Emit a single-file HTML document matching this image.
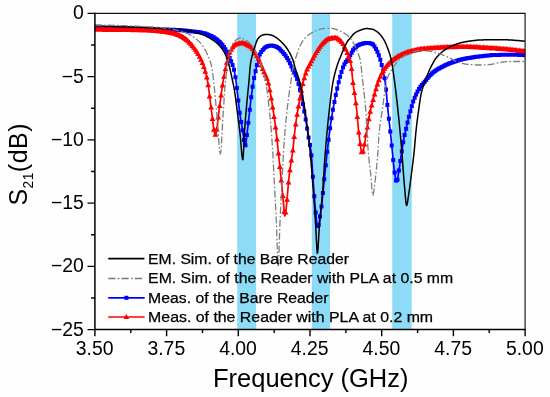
<!DOCTYPE html>
<html lang="en"><head><meta charset="utf-8"><title>S21 vs Frequency</title>
<style>html,body{margin:0;padding:0;background:#fff}body{width:550px;height:397px;overflow:hidden}svg{display:block}text{font-family:"Liberation Sans",sans-serif;fill:#000}</style></head><body>
<svg width="550" height="397" viewBox="0 0 550 397">
<rect width="550" height="397" fill="#fefefe"/>
<rect x="237.2" y="13.4" width="18.9" height="316.2" fill="#8cdcf8"/>
<rect x="311.8" y="13.4" width="18.2" height="316.2" fill="#8cdcf8"/>
<rect x="392.2" y="13.4" width="19.5" height="316.2" fill="#8cdcf8"/>
<clipPath id="c"><rect x="94.9" y="13.4" width="430.2" height="316.2"/></clipPath>
<g clip-path="url(#c)">
<path d="M94.9,28.6 L95.3,28.6 L95.7,28.6 L96.1,28.6 L96.5,28.6 L96.9,28.6 L97.3,28.6 L97.7,28.6 L98.1,28.6 L98.5,28.6 L98.9,28.6 L99.3,28.6 L99.7,28.6 L100.1,28.6 L100.5,28.6 L100.9,28.6 L101.3,28.6 L101.7,28.6 L102.1,28.6 L102.5,28.6 L102.9,28.6 L103.3,28.6 L103.7,28.6 L104.1,28.6 L104.5,28.6 L104.9,28.6 L105.3,28.6 L105.7,28.6 L106.1,28.6 L106.5,28.6 L106.9,28.6 L107.3,28.6 L107.7,28.6 L108.1,28.6 L108.5,28.6 L108.9,28.6 L109.3,28.6 L109.7,28.6 L110.1,28.6 L110.5,28.6 L110.9,28.6 L111.3,28.6 L111.7,28.6 L112.1,28.6 L112.5,28.6 L112.9,28.6 L113.3,28.6 L113.7,28.6 L114.1,28.6 L114.5,28.6 L114.9,28.6 L115.3,28.6 L115.7,28.6 L116.1,28.6 L116.5,28.6 L116.9,28.6 L117.3,28.6 L117.7,28.6 L118.1,28.6 L118.5,28.6 L118.9,28.6 L119.3,28.6 L119.7,28.6 L120.1,28.6 L120.5,28.6 L120.9,28.6 L121.3,28.6 L121.7,28.6 L122.1,28.6 L122.5,28.6 L122.9,28.6 L123.3,28.6 L123.7,28.6 L124.1,28.6 L124.5,28.6 L124.9,28.6 L125.3,28.6 L125.7,28.6 L126.1,28.6 L126.5,28.6 L126.9,28.6 L127.3,28.6 L127.7,28.6 L128.1,28.6 L128.5,28.6 L128.9,28.6 L129.3,28.6 L129.7,28.6 L130.1,28.6 L130.5,28.6 L130.9,28.6 L131.3,28.6 L131.7,28.6 L132.1,28.6 L132.5,28.6 L132.9,28.6 L133.3,28.6 L133.7,28.6 L134.1,28.6 L134.5,28.6 L134.9,28.6 L135.3,28.6 L135.7,28.6 L136.1,28.7 L136.5,28.7 L136.9,28.7 L137.3,28.7 L137.7,28.7 L138.1,28.7 L138.5,28.7 L138.9,28.7 L139.3,28.7 L139.7,28.7 L140.1,28.7 L140.5,28.7 L140.9,28.8 L141.3,28.8 L141.7,28.8 L142.1,28.8 L142.5,28.8 L142.9,28.8 L143.3,28.8 L143.7,28.8 L144.1,28.8 L144.5,28.9 L144.9,28.9 L145.3,28.9 L145.7,28.9 L146.1,28.9 L146.5,28.9 L146.9,28.9 L147.3,28.9 L147.7,28.9 L148.1,28.9 L148.5,29.0 L148.9,29.0 L149.3,29.0 L149.7,29.0 L150.1,29.0 L150.5,29.0 L150.9,29.0 L151.3,29.0 L151.7,29.0 L152.1,29.1 L152.5,29.1 L152.9,29.1 L153.3,29.1 L153.7,29.1 L154.1,29.1 L154.5,29.1 L154.9,29.1 L155.3,29.2 L155.7,29.2 L156.1,29.2 L156.5,29.2 L156.9,29.2 L157.3,29.2 L157.7,29.2 L158.1,29.3 L158.5,29.3 L158.9,29.3 L159.3,29.3 L159.7,29.3 L160.1,29.3 L160.5,29.3 L160.9,29.4 L161.3,29.4 L161.7,29.4 L162.1,29.4 L162.5,29.4 L162.9,29.4 L163.3,29.4 L163.7,29.5 L164.1,29.5 L164.5,29.5 L164.9,29.5 L165.3,29.5 L165.7,29.5 L166.1,29.5 L166.5,29.6 L166.9,29.6 L167.3,29.6 L167.7,29.6 L168.1,29.6 L168.5,29.6 L168.9,29.6 L169.3,29.6 L169.7,29.7 L170.1,29.7 L170.5,29.7 L170.9,29.7 L171.3,29.7 L171.7,29.7 L172.1,29.7 L172.5,29.8 L172.9,29.8 L173.3,29.8 L173.7,29.8 L174.1,29.8 L174.5,29.8 L174.9,29.9 L175.3,29.9 L175.7,29.9 L176.1,29.9 L176.5,29.9 L176.9,29.9 L177.3,30.0 L177.7,30.0 L178.1,30.0 L178.5,30.0 L178.9,30.0 L179.3,30.1 L179.7,30.1 L180.1,30.1 L180.5,30.1 L180.9,30.2 L181.3,30.2 L181.7,30.2 L182.1,30.2 L182.5,30.3 L182.9,30.3 L183.3,30.4 L183.7,30.4 L184.1,30.4 L184.5,30.5 L184.9,30.5 L185.3,30.5 L185.7,30.6 L186.1,30.6 L186.5,30.7 L186.9,30.7 L187.3,30.8 L187.7,30.8 L188.1,30.9 L188.5,30.9 L188.9,31.0 L189.3,31.0 L189.7,31.0 L190.1,31.1 L190.5,31.1 L190.9,31.2 L191.3,31.2 L191.7,31.3 L192.1,31.3 L192.5,31.4 L192.9,31.4 L193.3,31.5 L193.7,31.5 L194.1,31.6 L194.5,31.6 L194.9,31.7 L195.3,31.7 L195.7,31.8 L196.1,31.8 L196.5,31.9 L196.9,31.9 L197.3,32.0 L197.7,32.0 L198.1,32.1 L198.5,32.1 L198.9,32.2 L199.3,32.3 L199.7,32.3 L200.1,32.4 L200.5,32.5 L200.9,32.5 L201.3,32.6 L201.7,32.7 L202.1,32.8 L202.5,32.9 L202.9,33.0 L203.3,33.1 L203.7,33.2 L204.1,33.3 L204.5,33.4 L204.9,33.5 L205.3,33.6 L205.7,33.8 L206.1,33.9 L206.5,34.1 L206.9,34.2 L207.3,34.4 L207.7,34.5 L208.1,34.7 L208.5,34.9 L208.9,35.0 L209.3,35.2 L209.7,35.4 L210.1,35.6 L210.5,35.8 L210.9,36.0 L211.3,36.2 L211.7,36.4 L212.1,36.6 L212.5,36.8 L212.9,37.0 L213.3,37.2 L213.7,37.4 L214.1,37.7 L214.5,37.9 L214.9,38.1 L215.3,38.4 L215.7,38.7 L216.1,39.0 L216.5,39.3 L216.9,39.6 L217.3,39.9 L217.7,40.2 L218.1,40.6 L218.5,40.9 L218.9,41.3 L219.3,41.6 L219.7,42.0 L220.1,42.4 L220.5,42.8 L220.9,43.2 L221.3,43.7 L221.7,44.1 L222.1,44.6 L222.5,45.1 L222.9,45.6 L223.3,46.1 L223.7,46.7 L224.1,47.3 L224.5,47.9 L224.9,48.5 L225.3,49.1 L225.7,49.7 L226.1,50.4 L226.5,51.2 L226.9,52.0 L227.3,52.8 L227.7,53.6 L228.1,54.5 L228.5,55.3 L228.9,56.2 L229.3,57.1 L229.7,58.0 L230.1,58.9 L230.5,59.8 L230.9,60.8 L231.3,61.7 L231.7,62.7 L232.1,63.8 L232.5,64.9 L232.9,66.0 L233.3,67.2 L233.7,68.5 L234.1,70.1 L234.5,72.0 L234.9,74.2 L235.3,76.5 L235.7,79.0 L236.1,81.7 L236.5,84.8 L236.9,88.2 L237.3,91.8 L237.7,95.4 L238.1,98.8 L238.5,102.3 L238.9,105.8 L239.3,109.2 L239.7,112.5 L240.1,115.5 L240.5,118.1 L240.9,120.5 L241.3,122.7 L241.7,124.9 L242.1,127.1 L242.5,129.6 L242.9,132.3 L243.3,135.0 L243.7,137.8 L244.1,140.3 L244.5,142.6 L244.9,144.8 L245.3,145.5 L245.7,144.3 L246.1,142.3 L246.5,139.0 L246.9,135.1 L247.3,131.5 L247.7,128.1 L248.1,124.8 L248.5,121.4 L248.9,118.0 L249.3,114.4 L249.7,110.5 L250.1,106.5 L250.5,102.9 L250.9,99.6 L251.3,96.5 L251.7,93.6 L252.1,90.7 L252.5,87.8 L252.9,84.9 L253.3,82.2 L253.7,79.9 L254.1,77.8 L254.5,75.8 L254.9,74.0 L255.3,72.2 L255.7,70.5 L256.1,68.8 L256.5,67.1 L256.9,65.3 L257.3,63.4 L257.7,61.6 L258.1,59.9 L258.5,58.3 L258.9,56.9 L259.3,55.7 L259.7,54.8 L260.1,54.0 L260.5,53.2 L260.9,52.6 L261.3,51.9 L261.7,51.4 L262.1,50.8 L262.5,50.3 L262.9,49.9 L263.3,49.4 L263.7,49.0 L264.1,48.6 L264.5,48.2 L264.9,47.8 L265.3,47.4 L265.7,47.1 L266.1,46.8 L266.5,46.6 L266.9,46.4 L267.3,46.3 L267.7,46.2 L268.1,46.1 L268.5,46.0 L268.9,45.9 L269.3,45.8 L269.7,45.8 L270.1,45.7 L270.5,45.7 L270.9,45.6 L271.3,45.6 L271.7,45.6 L272.1,45.6 L272.5,45.7 L272.9,45.7 L273.3,45.8 L273.7,45.9 L274.1,46.0 L274.5,46.1 L274.9,46.3 L275.3,46.4 L275.7,46.6 L276.1,46.7 L276.5,46.9 L276.9,47.1 L277.3,47.2 L277.7,47.5 L278.1,47.7 L278.5,48.0 L278.9,48.3 L279.3,48.6 L279.7,49.0 L280.1,49.4 L280.5,49.8 L280.9,50.2 L281.3,50.7 L281.7,51.1 L282.1,51.5 L282.5,52.0 L282.9,52.4 L283.3,52.9 L283.7,53.3 L284.1,53.8 L284.5,54.3 L284.9,54.9 L285.3,55.4 L285.7,56.0 L286.1,56.5 L286.5,57.1 L286.9,57.7 L287.3,58.4 L287.7,59.0 L288.1,59.7 L288.5,60.4 L288.9,61.1 L289.3,61.9 L289.7,62.8 L290.1,63.6 L290.5,64.5 L290.9,65.5 L291.3,66.4 L291.7,67.3 L292.1,68.2 L292.5,69.1 L292.9,69.9 L293.3,70.7 L293.7,71.5 L294.1,72.2 L294.5,73.0 L294.9,73.7 L295.3,74.5 L295.7,75.4 L296.1,76.3 L296.5,77.3 L296.9,78.4 L297.3,79.6 L297.7,80.9 L298.1,82.4 L298.5,83.9 L298.9,85.4 L299.3,87.1 L299.7,88.8 L300.1,90.6 L300.5,92.4 L300.9,94.3 L301.3,96.2 L301.7,98.1 L302.1,100.1 L302.5,102.2 L302.9,104.2 L303.3,106.3 L303.7,108.4 L304.1,110.6 L304.5,112.7 L304.9,114.9 L305.3,117.2 L305.7,119.6 L306.1,122.1 L306.5,124.6 L306.9,127.1 L307.3,129.6 L307.7,132.1 L308.1,134.6 L308.5,137.1 L308.9,139.4 L309.3,141.6 L309.7,143.6 L310.1,145.5 L310.5,147.6 L310.9,150.2 L311.3,153.8 L311.7,158.7 L312.1,164.6 L312.5,170.9 L312.9,177.3 L313.3,183.3 L313.7,188.6 L314.1,193.7 L314.5,198.8 L314.9,203.6 L315.3,208.0 L315.7,212.0 L316.1,216.4 L316.5,220.7 L316.9,224.3 L317.3,226.7 L317.7,227.3 L318.1,226.7 L318.5,225.5 L318.9,223.7 L319.3,221.5 L319.7,218.9 L320.1,216.2 L320.5,213.4 L320.9,210.7 L321.3,207.9 L321.7,204.6 L322.1,201.0 L322.5,197.1 L322.9,193.2 L323.3,189.3 L323.7,185.5 L324.1,181.7 L324.5,177.8 L324.9,173.8 L325.3,169.8 L325.7,165.9 L326.1,162.0 L326.5,158.2 L326.9,154.5 L327.3,151.0 L327.7,147.6 L328.1,144.2 L328.5,140.8 L328.9,137.5 L329.3,134.3 L329.7,131.1 L330.1,128.1 L330.5,125.1 L330.9,122.3 L331.3,119.6 L331.7,117.0 L332.1,114.6 L332.5,112.2 L332.9,109.9 L333.3,107.7 L333.7,105.5 L334.1,103.4 L334.5,101.3 L334.9,99.3 L335.3,97.3 L335.7,95.4 L336.1,93.5 L336.5,91.7 L336.9,89.9 L337.3,88.1 L337.7,86.4 L338.1,84.7 L338.5,83.0 L338.9,81.4 L339.3,79.8 L339.7,78.2 L340.1,76.7 L340.5,75.3 L340.9,73.9 L341.3,72.6 L341.7,71.4 L342.1,70.2 L342.5,69.0 L342.9,67.8 L343.3,66.8 L343.7,65.8 L344.1,64.9 L344.5,64.1 L344.9,63.4 L345.3,62.8 L345.7,62.2 L346.1,61.6 L346.5,61.1 L346.9,60.6 L347.3,60.1 L347.7,59.6 L348.1,59.0 L348.5,58.5 L348.9,57.8 L349.3,57.2 L349.7,56.5 L350.1,55.7 L350.5,54.9 L350.9,54.1 L351.3,53.3 L351.7,52.6 L352.1,51.8 L352.5,51.0 L352.9,50.4 L353.3,49.7 L353.7,49.1 L354.1,48.6 L354.5,48.2 L354.9,47.8 L355.3,47.4 L355.7,47.1 L356.1,46.7 L356.5,46.4 L356.9,46.1 L357.3,45.8 L357.7,45.5 L358.1,45.3 L358.5,45.1 L358.9,44.9 L359.3,44.7 L359.7,44.5 L360.1,44.4 L360.5,44.2 L360.9,44.1 L361.3,44.0 L361.7,43.9 L362.1,43.7 L362.5,43.6 L362.9,43.5 L363.3,43.4 L363.7,43.3 L364.1,43.3 L364.5,43.2 L364.9,43.1 L365.3,43.1 L365.7,43.0 L366.1,43.0 L366.5,43.0 L366.9,43.0 L367.3,43.0 L367.7,43.0 L368.1,43.1 L368.5,43.1 L368.9,43.1 L369.3,43.2 L369.7,43.3 L370.1,43.3 L370.5,43.4 L370.9,43.5 L371.3,43.6 L371.7,43.7 L372.1,43.8 L372.5,43.9 L372.9,44.3 L373.3,44.7 L373.7,45.3 L374.1,45.9 L374.5,46.6 L374.9,47.3 L375.3,48.0 L375.7,48.6 L376.1,49.3 L376.5,50.0 L376.9,50.8 L377.3,51.6 L377.7,52.4 L378.1,53.3 L378.5,54.3 L378.9,55.4 L379.3,56.6 L379.7,57.9 L380.1,59.2 L380.5,60.6 L380.9,62.0 L381.3,63.4 L381.7,64.9 L382.1,66.5 L382.5,68.1 L382.9,69.9 L383.3,71.7 L383.7,73.6 L384.1,75.6 L384.5,77.9 L384.9,80.3 L385.3,83.2 L385.7,86.6 L386.1,90.5 L386.5,94.7 L386.9,99.0 L387.3,103.4 L387.7,107.7 L388.1,111.7 L388.5,115.5 L388.9,119.1 L389.3,122.7 L389.7,126.2 L390.1,129.7 L390.5,133.3 L390.9,137.0 L391.3,140.9 L391.7,145.0 L392.1,149.0 L392.5,153.0 L392.9,157.2 L393.3,161.4 L393.7,165.4 L394.1,168.9 L394.5,171.8 L394.9,174.3 L395.3,176.8 L395.7,179.0 L396.1,180.7 L396.5,181.7 L396.9,181.6 L397.3,180.5 L397.7,178.5 L398.1,175.9 L398.5,173.2 L398.9,170.6 L399.3,168.2 L399.7,165.6 L400.1,162.8 L400.5,160.0 L400.9,157.1 L401.3,154.3 L401.7,151.6 L402.1,149.1 L402.5,146.5 L402.9,144.0 L403.3,141.6 L403.7,139.5 L404.1,137.5 L404.5,135.6 L404.9,133.8 L405.3,132.0 L405.7,130.3 L406.1,128.6 L406.5,126.9 L406.9,125.2 L407.3,123.5 L407.7,121.8 L408.1,120.1 L408.5,118.5 L408.9,116.9 L409.3,115.3 L409.7,113.8 L410.1,112.3 L410.5,110.9 L410.9,109.5 L411.3,108.1 L411.7,106.7 L412.1,105.3 L412.5,104.0 L412.9,102.7 L413.3,101.5 L413.7,100.3 L414.1,99.2 L414.5,98.2 L414.9,97.2 L415.3,96.3 L415.7,95.4 L416.1,94.5 L416.5,93.6 L416.9,92.8 L417.3,92.0 L417.7,91.2 L418.1,90.4 L418.5,89.7 L418.9,89.0 L419.3,88.4 L419.7,87.7 L420.1,87.2 L420.5,86.6 L420.9,86.1 L421.3,85.6 L421.7,85.1 L422.1,84.7 L422.5,84.3 L422.9,83.8 L423.3,83.4 L423.7,83.0 L424.1,82.5 L424.5,82.1 L424.9,81.6 L425.3,81.1 L425.7,80.6 L426.1,80.1 L426.5,79.5 L426.9,79.0 L427.3,78.5 L427.7,78.0 L428.1,77.5 L428.5,77.0 L428.9,76.6 L429.3,76.1 L429.7,75.7 L430.1,75.3 L430.5,74.8 L430.9,74.4 L431.3,74.1 L431.7,73.7 L432.1,73.3 L432.5,73.0 L432.9,72.6 L433.3,72.3 L433.7,72.0 L434.1,71.7 L434.5,71.4 L434.9,71.1 L435.3,70.8 L435.7,70.6 L436.1,70.3 L436.5,70.0 L436.9,69.8 L437.3,69.5 L437.7,69.3 L438.1,69.0 L438.5,68.8 L438.9,68.6 L439.3,68.4 L439.7,68.1 L440.1,67.9 L440.5,67.7 L440.9,67.5 L441.3,67.3 L441.7,67.1 L442.1,66.9 L442.5,66.6 L442.9,66.4 L443.3,66.2 L443.7,66.0 L444.1,65.9 L444.5,65.7 L444.9,65.5 L445.3,65.3 L445.7,65.1 L446.1,64.9 L446.5,64.7 L446.9,64.5 L447.3,64.4 L447.7,64.2 L448.1,64.0 L448.5,63.9 L448.9,63.7 L449.3,63.5 L449.7,63.4 L450.1,63.2 L450.5,63.0 L450.9,62.9 L451.3,62.7 L451.7,62.6 L452.1,62.4 L452.5,62.3 L452.9,62.1 L453.3,62.0 L453.7,61.9 L454.1,61.7 L454.5,61.6 L454.9,61.5 L455.3,61.3 L455.7,61.2 L456.1,61.1 L456.5,60.9 L456.9,60.8 L457.3,60.7 L457.7,60.5 L458.1,60.4 L458.5,60.3 L458.9,60.2 L459.3,60.1 L459.7,59.9 L460.1,59.8 L460.5,59.7 L460.9,59.6 L461.3,59.5 L461.7,59.4 L462.1,59.3 L462.5,59.2 L462.9,59.1 L463.3,59.0 L463.7,58.9 L464.1,58.8 L464.5,58.8 L464.9,58.7 L465.3,58.6 L465.7,58.5 L466.1,58.4 L466.5,58.4 L466.9,58.3 L467.3,58.2 L467.7,58.2 L468.1,58.1 L468.5,58.0 L468.9,57.9 L469.3,57.9 L469.7,57.8 L470.1,57.7 L470.5,57.7 L470.9,57.6 L471.3,57.6 L471.7,57.5 L472.1,57.4 L472.5,57.4 L472.9,57.3 L473.3,57.3 L473.7,57.2 L474.1,57.1 L474.5,57.1 L474.9,57.0 L475.3,57.0 L475.7,56.9 L476.1,56.9 L476.5,56.8 L476.9,56.8 L477.3,56.7 L477.7,56.7 L478.1,56.6 L478.5,56.6 L478.9,56.5 L479.3,56.5 L479.7,56.4 L480.1,56.4 L480.5,56.3 L480.9,56.3 L481.3,56.2 L481.7,56.2 L482.1,56.2 L482.5,56.1 L482.9,56.1 L483.3,56.0 L483.7,56.0 L484.1,55.9 L484.5,55.9 L484.9,55.8 L485.3,55.8 L485.7,55.7 L486.1,55.7 L486.5,55.6 L486.9,55.6 L487.3,55.6 L487.7,55.5 L488.1,55.5 L488.5,55.4 L488.9,55.4 L489.3,55.4 L489.7,55.3 L490.1,55.3 L490.5,55.3 L490.9,55.2 L491.3,55.2 L491.7,55.2 L492.1,55.1 L492.5,55.1 L492.9,55.1 L493.3,55.1 L493.7,55.1 L494.1,55.0 L494.5,55.0 L494.9,55.0 L495.3,55.0 L495.7,55.0 L496.1,55.0 L496.5,55.0 L496.9,54.9 L497.3,54.9 L497.7,54.9 L498.1,54.9 L498.5,54.9 L498.9,54.9 L499.3,54.9 L499.7,54.9 L500.1,54.9 L500.5,54.8 L500.9,54.8 L501.3,54.8 L501.7,54.8 L502.1,54.8 L502.5,54.8 L502.9,54.8 L503.3,54.8 L503.7,54.8 L504.1,54.8 L504.5,54.8 L504.9,54.8 L505.3,54.8 L505.7,54.7 L506.1,54.7 L506.5,54.7 L506.9,54.7 L507.3,54.7 L507.7,54.7 L508.1,54.7 L508.5,54.7 L508.9,54.7 L509.3,54.7 L509.7,54.7 L510.1,54.7 L510.5,54.7 L510.9,54.7 L511.3,54.7 L511.7,54.7 L512.1,54.7 L512.5,54.7 L512.9,54.7 L513.3,54.7 L513.7,54.7 L514.1,54.7 L514.5,54.7 L514.9,54.7 L515.3,54.7 L515.7,54.8 L516.1,54.8 L516.5,54.8 L516.9,54.8 L517.3,54.8 L517.7,54.8 L518.1,54.8 L518.5,54.8 L518.9,54.9 L519.3,54.9 L519.7,54.9 L520.1,54.9 L520.5,54.9 L520.9,55.0 L521.3,55.0 L521.7,55.0 L522.1,55.0 L522.5,55.0 L522.9,55.1 L523.3,55.1 L523.7,55.1 L524.1,55.1 L524.5,55.2 L524.9,55.2" fill="none" stroke="#0000ff" stroke-width="1.7" stroke-linejoin="round"/>
<path d="M92.9,26.6h4.0v4.0h-4.0zM94.3,26.6h4.0v4.0h-4.0zM95.8,26.6h4.0v4.0h-4.0zM97.2,26.6h4.0v4.0h-4.0zM98.6,26.6h4.0v4.0h-4.0zM100.1,26.6h4.0v4.0h-4.0zM101.5,26.6h4.0v4.0h-4.0zM102.9,26.6h4.0v4.0h-4.0zM104.4,26.6h4.0v4.0h-4.0zM105.8,26.6h4.0v4.0h-4.0zM107.2,26.6h4.0v4.0h-4.0zM108.7,26.6h4.0v4.0h-4.0zM110.1,26.6h4.0v4.0h-4.0zM111.5,26.6h4.0v4.0h-4.0zM113.0,26.6h4.0v4.0h-4.0zM114.4,26.6h4.0v4.0h-4.0zM115.8,26.6h4.0v4.0h-4.0zM117.3,26.6h4.0v4.0h-4.0zM118.7,26.6h4.0v4.0h-4.0zM120.1,26.6h4.0v4.0h-4.0zM121.6,26.6h4.0v4.0h-4.0zM123.0,26.6h4.0v4.0h-4.0zM124.4,26.6h4.0v4.0h-4.0zM125.9,26.6h4.0v4.0h-4.0zM127.3,26.6h4.0v4.0h-4.0zM128.7,26.6h4.0v4.0h-4.0zM130.2,26.6h4.0v4.0h-4.0zM131.6,26.6h4.0v4.0h-4.0zM133.1,26.6h4.0v4.0h-4.0zM134.5,26.7h4.0v4.0h-4.0zM135.9,26.7h4.0v4.0h-4.0zM137.4,26.7h4.0v4.0h-4.0zM138.8,26.8h4.0v4.0h-4.0zM140.2,26.8h4.0v4.0h-4.0zM141.7,26.8h4.0v4.0h-4.0zM143.1,26.9h4.0v4.0h-4.0zM144.5,26.9h4.0v4.0h-4.0zM146.0,26.9h4.0v4.0h-4.0zM147.4,27.0h4.0v4.0h-4.0zM148.8,27.0h4.0v4.0h-4.0zM150.3,27.1h4.0v4.0h-4.0zM151.7,27.1h4.0v4.0h-4.0zM153.1,27.2h4.0v4.0h-4.0zM154.6,27.2h4.0v4.0h-4.0zM156.0,27.2h4.0v4.0h-4.0zM157.4,27.3h4.0v4.0h-4.0zM158.9,27.3h4.0v4.0h-4.0zM160.3,27.4h4.0v4.0h-4.0zM161.7,27.5h4.0v4.0h-4.0zM163.2,27.5h4.0v4.0h-4.0zM164.6,27.6h4.0v4.0h-4.0zM166.0,27.6h4.0v4.0h-4.0zM167.5,27.7h4.0v4.0h-4.0zM168.9,27.7h4.0v4.0h-4.0zM170.3,27.8h4.0v4.0h-4.0zM171.8,27.8h4.0v4.0h-4.0zM173.2,27.9h4.0v4.0h-4.0zM174.6,27.9h4.0v4.0h-4.0zM176.1,28.0h4.0v4.0h-4.0zM177.5,28.1h4.0v4.0h-4.0zM178.9,28.2h4.0v4.0h-4.0zM180.4,28.3h4.0v4.0h-4.0zM181.8,28.4h4.0v4.0h-4.0zM183.2,28.5h4.0v4.0h-4.0zM184.7,28.7h4.0v4.0h-4.0zM186.1,28.9h4.0v4.0h-4.0zM187.5,29.0h4.0v4.0h-4.0zM189.0,29.2h4.0v4.0h-4.0zM190.4,29.4h4.0v4.0h-4.0zM191.8,29.5h4.0v4.0h-4.0zM193.3,29.7h4.0v4.0h-4.0zM194.7,29.9h4.0v4.0h-4.0zM196.1,30.1h4.0v4.0h-4.0zM197.6,30.3h4.0v4.0h-4.0zM199.0,30.6h4.0v4.0h-4.0zM200.4,30.9h4.0v4.0h-4.0zM201.9,31.2h4.0v4.0h-4.0zM203.3,31.6h4.0v4.0h-4.0zM204.8,32.2h4.0v4.0h-4.0zM206.2,32.7h4.0v4.0h-4.0zM207.6,33.4h4.0v4.0h-4.0zM209.1,34.0h4.0v4.0h-4.0zM210.5,34.8h4.0v4.0h-4.0zM211.9,35.5h4.0v4.0h-4.0zM213.4,36.5h4.0v4.0h-4.0zM214.8,37.5h4.0v4.0h-4.0zM216.2,38.7h4.0v4.0h-4.0zM217.7,40.0h4.0v4.0h-4.0zM219.1,41.4h4.0v4.0h-4.0zM220.5,43.1h4.0v4.0h-4.0zM222.0,45.1h4.0v4.0h-4.0zM223.4,47.2h4.0v4.0h-4.0zM224.8,49.8h4.0v4.0h-4.0zM226.3,52.8h4.0v4.0h-4.0zM227.7,56.0h4.0v4.0h-4.0zM229.1,59.3h4.0v4.0h-4.0zM230.6,63.0h4.0v4.0h-4.0zM232.0,67.7h4.0v4.0h-4.0zM233.4,75.3h4.0v4.0h-4.0zM234.9,85.9h4.0v4.0h-4.0zM236.3,98.6h4.0v4.0h-4.0zM237.7,110.8h4.0v4.0h-4.0zM239.2,120.0h4.0v4.0h-4.0zM240.6,128.2h4.0v4.0h-4.0zM242.0,137.9h4.0v4.0h-4.0zM243.5,143.2h4.0v4.0h-4.0zM244.9,133.0h4.0v4.0h-4.0zM246.3,120.8h4.0v4.0h-4.0zM247.8,107.8h4.0v4.0h-4.0zM249.2,95.2h4.0v4.0h-4.0zM250.6,84.8h4.0v4.0h-4.0zM252.1,75.9h4.0v4.0h-4.0zM253.5,69.3h4.0v4.0h-4.0zM254.9,63.1h4.0v4.0h-4.0zM256.4,56.8h4.0v4.0h-4.0zM257.8,52.6h4.0v4.0h-4.0zM259.2,50.0h4.0v4.0h-4.0zM260.7,48.1h4.0v4.0h-4.0zM262.1,46.6h4.0v4.0h-4.0zM263.5,45.2h4.0v4.0h-4.0zM265.0,44.4h4.0v4.0h-4.0zM266.4,44.0h4.0v4.0h-4.0zM267.8,43.7h4.0v4.0h-4.0zM269.3,43.6h4.0v4.0h-4.0zM270.7,43.7h4.0v4.0h-4.0zM272.1,44.0h4.0v4.0h-4.0zM273.6,44.5h4.0v4.0h-4.0zM275.0,45.1h4.0v4.0h-4.0zM276.5,45.9h4.0v4.0h-4.0zM277.9,47.2h4.0v4.0h-4.0zM279.3,48.7h4.0v4.0h-4.0zM280.8,50.3h4.0v4.0h-4.0zM282.2,51.9h4.0v4.0h-4.0zM283.6,53.8h4.0v4.0h-4.0zM285.1,56.0h4.0v4.0h-4.0zM286.5,58.3h4.0v4.0h-4.0zM287.9,61.2h4.0v4.0h-4.0zM289.4,64.5h4.0v4.0h-4.0zM290.8,67.7h4.0v4.0h-4.0zM292.2,70.4h4.0v4.0h-4.0zM293.7,73.3h4.0v4.0h-4.0zM295.1,77.0h4.0v4.0h-4.0zM296.5,82.0h4.0v4.0h-4.0zM298.0,87.9h4.0v4.0h-4.0zM299.4,94.6h4.0v4.0h-4.0zM300.8,101.9h4.0v4.0h-4.0zM302.3,109.4h4.0v4.0h-4.0zM303.7,117.6h4.0v4.0h-4.0zM305.1,126.6h4.0v4.0h-4.0zM306.6,135.5h4.0v4.0h-4.0zM308.0,143.0h4.0v4.0h-4.0zM309.4,153.3h4.0v4.0h-4.0zM310.9,174.8h4.0v4.0h-4.0zM312.3,194.3h4.0v4.0h-4.0zM313.7,210.4h4.0v4.0h-4.0zM315.2,224.1h4.0v4.0h-4.0zM316.6,223.0h4.0v4.0h-4.0zM318.0,214.6h4.0v4.0h-4.0zM319.5,204.5h4.0v4.0h-4.0zM320.9,191.1h4.0v4.0h-4.0zM322.3,177.3h4.0v4.0h-4.0zM323.8,163.2h4.0v4.0h-4.0zM325.2,149.8h4.0v4.0h-4.0zM326.6,137.7h4.0v4.0h-4.0zM328.1,126.3h4.0v4.0h-4.0zM329.5,116.2h4.0v4.0h-4.0zM330.9,107.7h4.0v4.0h-4.0zM332.4,100.0h4.0v4.0h-4.0zM333.8,92.9h4.0v4.0h-4.0zM335.2,86.4h4.0v4.0h-4.0zM336.7,80.3h4.0v4.0h-4.0zM338.1,74.7h4.0v4.0h-4.0zM339.5,69.9h4.0v4.0h-4.0zM341.0,65.6h4.0v4.0h-4.0zM342.4,62.3h4.0v4.0h-4.0zM343.8,60.0h4.0v4.0h-4.0zM345.3,58.1h4.0v4.0h-4.0zM346.7,56.1h4.0v4.0h-4.0zM348.2,53.6h4.0v4.0h-4.0zM349.6,50.8h4.0v4.0h-4.0zM351.0,48.2h4.0v4.0h-4.0zM352.5,46.2h4.0v4.0h-4.0zM353.9,44.9h4.0v4.0h-4.0zM355.3,43.8h4.0v4.0h-4.0zM356.8,42.9h4.0v4.0h-4.0zM358.2,42.3h4.0v4.0h-4.0zM359.6,41.9h4.0v4.0h-4.0zM361.1,41.5h4.0v4.0h-4.0zM362.5,41.2h4.0v4.0h-4.0zM363.9,41.0h4.0v4.0h-4.0zM365.4,41.0h4.0v4.0h-4.0zM366.8,41.1h4.0v4.0h-4.0zM368.2,41.3h4.0v4.0h-4.0zM369.7,41.7h4.0v4.0h-4.0zM371.1,42.5h4.0v4.0h-4.0zM372.5,44.6h4.0v4.0h-4.0zM374.0,47.1h4.0v4.0h-4.0zM375.4,49.8h4.0v4.0h-4.0zM376.8,53.2h4.0v4.0h-4.0zM378.3,57.8h4.0v4.0h-4.0zM379.7,62.9h4.0v4.0h-4.0zM381.1,68.9h4.0v4.0h-4.0zM382.6,76.3h4.0v4.0h-4.0zM384.0,87.5h4.0v4.0h-4.0zM385.4,102.9h4.0v4.0h-4.0zM386.9,116.8h4.0v4.0h-4.0zM388.3,129.6h4.0v4.0h-4.0zM389.7,143.4h4.0v4.0h-4.0zM391.2,158.0h4.0v4.0h-4.0zM392.6,170.5h4.0v4.0h-4.0zM394.0,178.5h4.0v4.0h-4.0zM395.5,177.7h4.0v4.0h-4.0zM396.9,168.5h4.0v4.0h-4.0zM398.3,159.1h4.0v4.0h-4.0zM399.8,149.2h4.0v4.0h-4.0zM401.2,140.2h4.0v4.0h-4.0zM402.6,132.9h4.0v4.0h-4.0zM404.1,126.7h4.0v4.0h-4.0zM405.5,120.6h4.0v4.0h-4.0zM406.9,114.7h4.0v4.0h-4.0zM408.4,109.3h4.0v4.0h-4.0zM409.8,104.3h4.0v4.0h-4.0zM411.2,99.6h4.0v4.0h-4.0zM412.7,95.8h4.0v4.0h-4.0zM414.1,92.4h4.0v4.0h-4.0zM415.5,89.5h4.0v4.0h-4.0zM417.0,86.9h4.0v4.0h-4.0zM418.4,84.7h4.0v4.0h-4.0zM419.9,83.0h4.0v4.0h-4.0zM421.3,81.4h4.0v4.0h-4.0zM422.7,79.8h4.0v4.0h-4.0zM424.2,78.0h4.0v4.0h-4.0zM425.6,76.1h4.0v4.0h-4.0zM427.0,74.4h4.0v4.0h-4.0zM428.5,72.9h4.0v4.0h-4.0zM429.9,71.5h4.0v4.0h-4.0zM431.3,70.3h4.0v4.0h-4.0zM432.8,69.2h4.0v4.0h-4.0zM434.2,68.2h4.0v4.0h-4.0zM435.6,67.3h4.0v4.0h-4.0zM437.1,66.5h4.0v4.0h-4.0zM438.5,65.7h4.0v4.0h-4.0zM439.9,64.9h4.0v4.0h-4.0zM441.4,64.2h4.0v4.0h-4.0zM442.8,63.5h4.0v4.0h-4.0zM444.2,62.8h4.0v4.0h-4.0zM445.7,62.2h4.0v4.0h-4.0zM447.1,61.6h4.0v4.0h-4.0zM448.5,61.0h4.0v4.0h-4.0zM450.0,60.5h4.0v4.0h-4.0zM451.4,60.0h4.0v4.0h-4.0zM452.8,59.5h4.0v4.0h-4.0zM454.3,59.0h4.0v4.0h-4.0zM455.7,58.5h4.0v4.0h-4.0zM457.1,58.1h4.0v4.0h-4.0zM458.6,57.7h4.0v4.0h-4.0zM460.0,57.3h4.0v4.0h-4.0zM461.4,57.0h4.0v4.0h-4.0zM462.9,56.7h4.0v4.0h-4.0zM464.3,56.4h4.0v4.0h-4.0zM465.7,56.1h4.0v4.0h-4.0zM467.2,55.9h4.0v4.0h-4.0zM468.6,55.7h4.0v4.0h-4.0zM470.0,55.4h4.0v4.0h-4.0zM471.5,55.2h4.0v4.0h-4.0zM472.9,55.0h4.0v4.0h-4.0zM474.3,54.8h4.0v4.0h-4.0zM475.8,54.7h4.0v4.0h-4.0zM477.2,54.5h4.0v4.0h-4.0zM478.6,54.3h4.0v4.0h-4.0zM480.1,54.2h4.0v4.0h-4.0zM481.5,54.0h4.0v4.0h-4.0zM482.9,53.8h4.0v4.0h-4.0zM484.4,53.7h4.0v4.0h-4.0zM485.8,53.5h4.0v4.0h-4.0zM487.2,53.4h4.0v4.0h-4.0zM488.7,53.2h4.0v4.0h-4.0zM490.1,53.1h4.0v4.0h-4.0zM491.6,53.1h4.0v4.0h-4.0zM493.0,53.0h4.0v4.0h-4.0zM494.4,53.0h4.0v4.0h-4.0zM495.9,52.9h4.0v4.0h-4.0zM497.3,52.9h4.0v4.0h-4.0zM498.7,52.8h4.0v4.0h-4.0zM500.2,52.8h4.0v4.0h-4.0zM501.6,52.8h4.0v4.0h-4.0zM503.0,52.8h4.0v4.0h-4.0zM504.5,52.7h4.0v4.0h-4.0zM505.9,52.7h4.0v4.0h-4.0zM507.3,52.7h4.0v4.0h-4.0zM508.8,52.7h4.0v4.0h-4.0zM510.2,52.7h4.0v4.0h-4.0zM511.6,52.7h4.0v4.0h-4.0zM513.1,52.7h4.0v4.0h-4.0zM514.5,52.8h4.0v4.0h-4.0zM515.9,52.8h4.0v4.0h-4.0zM517.4,52.9h4.0v4.0h-4.0zM518.8,53.0h4.0v4.0h-4.0zM520.2,53.0h4.0v4.0h-4.0zM521.7,53.1h4.0v4.0h-4.0zM523.1,53.2h4.0v4.0h-4.0z" fill="#0000ff"/>
<path d="M94.9,29.7 L95.3,29.7 L95.7,29.7 L96.1,29.7 L96.5,29.7 L96.9,29.7 L97.3,29.7 L97.7,29.7 L98.1,29.7 L98.5,29.7 L98.9,29.7 L99.3,29.7 L99.7,29.7 L100.1,29.7 L100.5,29.7 L100.9,29.7 L101.3,29.7 L101.7,29.7 L102.1,29.7 L102.5,29.7 L102.9,29.7 L103.3,29.7 L103.7,29.7 L104.1,29.7 L104.5,29.7 L104.9,29.7 L105.3,29.7 L105.7,29.7 L106.1,29.7 L106.5,29.7 L106.9,29.7 L107.3,29.7 L107.7,29.7 L108.1,29.8 L108.5,29.8 L108.9,29.8 L109.3,29.8 L109.7,29.8 L110.1,29.8 L110.5,29.8 L110.9,29.8 L111.3,29.8 L111.7,29.8 L112.1,29.8 L112.5,29.8 L112.9,29.8 L113.3,29.8 L113.7,29.8 L114.1,29.8 L114.5,29.8 L114.9,29.8 L115.3,29.8 L115.7,29.8 L116.1,29.8 L116.5,29.8 L116.9,29.8 L117.3,29.8 L117.7,29.8 L118.1,29.8 L118.5,29.8 L118.9,29.9 L119.3,29.9 L119.7,29.9 L120.1,29.9 L120.5,29.9 L120.9,29.9 L121.3,29.9 L121.7,29.9 L122.1,29.9 L122.5,29.9 L122.9,29.9 L123.3,29.9 L123.7,29.9 L124.1,29.9 L124.5,29.9 L124.9,29.9 L125.3,29.9 L125.7,29.9 L126.1,29.9 L126.5,29.9 L126.9,30.0 L127.3,30.0 L127.7,30.0 L128.1,30.0 L128.5,30.0 L128.9,30.0 L129.3,30.0 L129.7,30.0 L130.1,30.0 L130.5,30.0 L130.9,30.0 L131.3,30.0 L131.7,30.0 L132.1,30.0 L132.5,30.0 L132.9,30.0 L133.3,30.0 L133.7,30.1 L134.1,30.1 L134.5,30.1 L134.9,30.1 L135.3,30.1 L135.7,30.1 L136.1,30.1 L136.5,30.1 L136.9,30.1 L137.3,30.1 L137.7,30.1 L138.1,30.2 L138.5,30.2 L138.9,30.2 L139.3,30.2 L139.7,30.2 L140.1,30.2 L140.5,30.2 L140.9,30.2 L141.3,30.2 L141.7,30.3 L142.1,30.3 L142.5,30.3 L142.9,30.3 L143.3,30.3 L143.7,30.3 L144.1,30.3 L144.5,30.4 L144.9,30.4 L145.3,30.4 L145.7,30.4 L146.1,30.4 L146.5,30.4 L146.9,30.4 L147.3,30.5 L147.7,30.5 L148.1,30.5 L148.5,30.5 L148.9,30.5 L149.3,30.5 L149.7,30.6 L150.1,30.6 L150.5,30.6 L150.9,30.6 L151.3,30.6 L151.7,30.7 L152.1,30.7 L152.5,30.7 L152.9,30.7 L153.3,30.8 L153.7,30.8 L154.1,30.8 L154.5,30.9 L154.9,30.9 L155.3,30.9 L155.7,31.0 L156.1,31.0 L156.5,31.0 L156.9,31.1 L157.3,31.1 L157.7,31.1 L158.1,31.2 L158.5,31.2 L158.9,31.3 L159.3,31.3 L159.7,31.3 L160.1,31.4 L160.5,31.4 L160.9,31.5 L161.3,31.5 L161.7,31.6 L162.1,31.6 L162.5,31.7 L162.9,31.7 L163.3,31.8 L163.7,31.8 L164.1,31.9 L164.5,31.9 L164.9,32.0 L165.3,32.0 L165.7,32.1 L166.1,32.1 L166.5,32.2 L166.9,32.2 L167.3,32.3 L167.7,32.4 L168.1,32.4 L168.5,32.5 L168.9,32.5 L169.3,32.6 L169.7,32.7 L170.1,32.7 L170.5,32.8 L170.9,32.9 L171.3,33.0 L171.7,33.0 L172.1,33.1 L172.5,33.2 L172.9,33.3 L173.3,33.4 L173.7,33.5 L174.1,33.6 L174.5,33.7 L174.9,33.8 L175.3,33.9 L175.7,34.0 L176.1,34.1 L176.5,34.2 L176.9,34.4 L177.3,34.5 L177.7,34.7 L178.1,34.8 L178.5,35.0 L178.9,35.1 L179.3,35.3 L179.7,35.5 L180.1,35.6 L180.5,35.8 L180.9,36.0 L181.3,36.2 L181.7,36.5 L182.1,36.7 L182.5,36.9 L182.9,37.2 L183.3,37.5 L183.7,37.7 L184.1,38.0 L184.5,38.3 L184.9,38.6 L185.3,38.9 L185.7,39.2 L186.1,39.5 L186.5,39.8 L186.9,40.1 L187.3,40.5 L187.7,40.8 L188.1,41.2 L188.5,41.6 L188.9,42.0 L189.3,42.4 L189.7,42.8 L190.1,43.2 L190.5,43.6 L190.9,44.1 L191.3,44.5 L191.7,45.0 L192.1,45.4 L192.5,45.9 L192.9,46.4 L193.3,46.9 L193.7,47.4 L194.1,47.9 L194.5,48.5 L194.9,49.0 L195.3,49.6 L195.7,50.2 L196.1,50.7 L196.5,51.3 L196.9,52.0 L197.3,52.6 L197.7,53.2 L198.1,53.9 L198.5,54.6 L198.9,55.3 L199.3,56.1 L199.7,56.8 L200.1,57.6 L200.5,58.4 L200.9,59.3 L201.3,60.2 L201.7,61.1 L202.1,62.0 L202.5,63.0 L202.9,64.1 L203.3,65.2 L203.7,66.3 L204.1,67.6 L204.5,68.8 L204.9,70.1 L205.3,71.5 L205.7,73.0 L206.1,74.6 L206.5,76.3 L206.9,78.0 L207.3,80.0 L207.7,82.1 L208.1,84.6 L208.5,87.4 L208.9,90.5 L209.3,93.7 L209.7,97.0 L210.1,100.2 L210.5,103.4 L210.9,106.3 L211.3,109.1 L211.7,112.3 L212.1,115.5 L212.5,118.9 L212.9,122.2 L213.3,125.3 L213.7,128.2 L214.1,130.6 L214.5,132.6 L214.9,134.0 L215.3,134.6 L215.7,134.3 L216.1,133.1 L216.5,131.2 L216.9,128.6 L217.3,125.6 L217.7,122.2 L218.1,118.6 L218.5,115.1 L218.9,111.6 L219.3,108.4 L219.7,105.6 L220.1,102.8 L220.5,99.8 L220.9,96.9 L221.3,93.9 L221.7,91.0 L222.1,88.2 L222.5,85.4 L222.9,82.8 L223.3,80.4 L223.7,78.1 L224.1,75.8 L224.5,73.6 L224.9,71.5 L225.3,69.5 L225.7,67.6 L226.1,65.8 L226.5,64.1 L226.9,62.4 L227.3,60.7 L227.7,59.1 L228.1,57.5 L228.5,56.1 L228.9,54.7 L229.3,53.5 L229.7,52.5 L230.1,51.6 L230.5,50.8 L230.9,50.1 L231.3,49.3 L231.7,48.7 L232.1,48.0 L232.5,47.4 L232.9,46.8 L233.3,46.3 L233.7,45.8 L234.1,45.4 L234.5,45.1 L234.9,44.8 L235.3,44.6 L235.7,44.4 L236.1,44.3 L236.5,44.2 L236.9,44.0 L237.3,43.9 L237.7,43.8 L238.1,43.7 L238.5,43.6 L238.9,43.5 L239.3,43.4 L239.7,43.4 L240.1,43.3 L240.5,43.3 L240.9,43.2 L241.3,43.2 L241.7,43.2 L242.1,43.2 L242.5,43.2 L242.9,43.3 L243.3,43.3 L243.7,43.4 L244.1,43.5 L244.5,43.6 L244.9,43.7 L245.3,43.9 L245.7,44.0 L246.1,44.2 L246.5,44.4 L246.9,44.5 L247.3,44.7 L247.7,44.9 L248.1,45.1 L248.5,45.3 L248.9,45.6 L249.3,45.8 L249.7,46.0 L250.1,46.3 L250.5,46.5 L250.9,46.9 L251.3,47.2 L251.7,47.7 L252.1,48.1 L252.5,48.6 L252.9,49.2 L253.3,49.7 L253.7,50.3 L254.1,51.0 L254.5,51.6 L254.9,52.3 L255.3,53.0 L255.7,53.7 L256.1,54.4 L256.5,55.1 L256.9,55.8 L257.3,56.5 L257.7,57.2 L258.1,58.0 L258.5,58.9 L258.9,59.8 L259.3,60.7 L259.7,61.6 L260.1,62.6 L260.5,63.6 L260.9,64.6 L261.3,65.6 L261.7,66.6 L262.1,67.6 L262.5,68.5 L262.9,69.5 L263.3,70.3 L263.7,71.2 L264.1,72.0 L264.5,72.8 L264.9,73.7 L265.3,74.5 L265.7,75.4 L266.1,76.3 L266.5,77.3 L266.9,78.3 L267.3,79.4 L267.7,80.7 L268.1,82.0 L268.5,83.6 L268.9,85.4 L269.3,87.3 L269.7,89.3 L270.1,91.5 L270.5,93.8 L270.9,96.1 L271.3,98.5 L271.7,101.0 L272.1,103.5 L272.5,106.0 L272.9,108.6 L273.3,111.1 L273.7,113.8 L274.1,116.5 L274.5,119.4 L274.9,122.3 L275.3,125.3 L275.7,128.4 L276.1,131.6 L276.5,134.9 L276.9,138.3 L277.3,141.8 L277.7,145.8 L278.1,150.0 L278.5,153.9 L278.9,157.7 L279.3,161.4 L279.7,165.0 L280.1,168.7 L280.5,172.5 L280.9,176.3 L281.3,180.3 L281.7,184.5 L282.1,188.7 L282.5,193.0 L282.9,197.3 L283.3,201.5 L283.7,205.6 L284.1,210.5 L284.5,214.8 L284.9,215.9 L285.3,214.5 L285.7,211.8 L286.1,208.5 L286.5,205.2 L286.9,201.4 L287.3,196.8 L287.7,192.0 L288.1,187.0 L288.5,182.3 L288.9,178.2 L289.3,174.8 L289.7,171.7 L290.1,168.8 L290.5,166.1 L290.9,163.5 L291.3,160.9 L291.7,158.3 L292.1,155.5 L292.5,152.6 L292.9,149.3 L293.3,145.8 L293.7,142.0 L294.1,138.1 L294.5,134.2 L294.9,130.5 L295.3,127.1 L295.7,124.0 L296.1,121.2 L296.5,118.5 L296.9,115.9 L297.3,113.4 L297.7,111.0 L298.1,108.7 L298.5,106.4 L298.9,104.2 L299.3,101.9 L299.7,99.7 L300.1,97.5 L300.5,95.3 L300.9,93.2 L301.3,91.1 L301.7,89.0 L302.1,87.1 L302.5,85.2 L302.9,83.5 L303.3,81.8 L303.7,80.2 L304.1,78.7 L304.5,77.3 L304.9,75.9 L305.3,74.6 L305.7,73.3 L306.1,72.1 L306.5,71.0 L306.9,70.0 L307.3,69.0 L307.7,68.2 L308.1,67.4 L308.5,66.6 L308.9,65.9 L309.3,65.2 L309.7,64.5 L310.1,63.7 L310.5,62.9 L310.9,62.2 L311.3,61.4 L311.7,60.6 L312.1,59.8 L312.5,59.0 L312.9,58.3 L313.3,57.5 L313.7,56.8 L314.1,56.0 L314.5,55.3 L314.9,54.6 L315.3,53.9 L315.7,53.2 L316.1,52.5 L316.5,51.9 L316.9,51.2 L317.3,50.6 L317.7,49.9 L318.1,49.3 L318.5,48.7 L318.9,48.2 L319.3,47.6 L319.7,47.0 L320.1,46.5 L320.5,45.9 L320.9,45.4 L321.3,44.9 L321.7,44.4 L322.1,43.9 L322.5,43.5 L322.9,43.1 L323.3,42.7 L323.7,42.3 L324.1,42.0 L324.5,41.6 L324.9,41.2 L325.3,40.9 L325.7,40.5 L326.1,40.2 L326.5,39.9 L326.9,39.7 L327.3,39.4 L327.7,39.2 L328.1,39.0 L328.5,38.9 L328.9,38.8 L329.3,38.7 L329.7,38.6 L330.1,38.5 L330.5,38.5 L330.9,38.4 L331.3,38.3 L331.7,38.3 L332.1,38.2 L332.5,38.2 L332.9,38.1 L333.3,38.1 L333.7,38.1 L334.1,38.0 L334.5,38.0 L334.9,38.0 L335.3,38.0 L335.7,38.0 L336.1,38.1 L336.5,38.2 L336.9,38.3 L337.3,38.5 L337.7,38.7 L338.1,38.9 L338.5,39.2 L338.9,39.5 L339.3,39.8 L339.7,40.2 L340.1,40.5 L340.5,40.9 L340.9,41.2 L341.3,41.6 L341.7,42.1 L342.1,42.6 L342.5,43.2 L342.9,43.8 L343.3,44.5 L343.7,45.2 L344.1,46.0 L344.5,46.8 L344.9,47.6 L345.3,48.4 L345.7,49.2 L346.1,50.1 L346.5,51.0 L346.9,51.9 L347.3,52.9 L347.7,53.9 L348.1,55.0 L348.5,56.1 L348.9,57.3 L349.3,58.4 L349.7,59.6 L350.1,60.8 L350.5,62.3 L350.9,64.0 L351.3,66.4 L351.7,70.0 L352.1,74.1 L352.5,78.3 L352.9,81.8 L353.3,84.9 L353.7,87.8 L354.1,90.6 L354.5,93.3 L354.9,96.0 L355.3,98.7 L355.7,101.7 L356.1,104.8 L356.5,108.2 L356.9,112.2 L357.3,116.6 L357.7,121.3 L358.1,125.9 L358.5,130.1 L358.9,133.7 L359.3,136.8 L359.7,140.0 L360.1,143.1 L360.5,146.1 L360.9,148.7 L361.3,150.8 L361.7,152.3 L362.1,153.0 L362.5,152.8 L362.9,152.0 L363.3,150.7 L363.7,148.9 L364.1,146.7 L364.5,144.4 L364.9,141.8 L365.3,139.3 L365.7,136.7 L366.1,134.3 L366.5,132.2 L366.9,130.0 L367.3,127.7 L367.7,125.4 L368.1,123.1 L368.5,120.7 L368.9,118.4 L369.3,116.2 L369.7,114.2 L370.1,112.2 L370.5,110.4 L370.9,108.6 L371.3,106.9 L371.7,105.2 L372.1,103.6 L372.5,102.0 L372.9,100.5 L373.3,99.0 L373.7,97.5 L374.1,96.0 L374.5,94.5 L374.9,93.0 L375.3,91.6 L375.7,90.1 L376.1,88.7 L376.5,87.2 L376.9,85.9 L377.3,84.6 L377.7,83.3 L378.1,82.1 L378.5,81.0 L378.9,79.9 L379.3,78.9 L379.7,77.9 L380.1,76.9 L380.5,76.0 L380.9,75.1 L381.3,74.2 L381.7,73.4 L382.1,72.6 L382.5,71.8 L382.9,71.1 L383.3,70.5 L383.7,69.9 L384.1,69.3 L384.5,68.7 L384.9,68.1 L385.3,67.6 L385.7,67.1 L386.1,66.6 L386.5,66.1 L386.9,65.6 L387.3,65.1 L387.7,64.7 L388.1,64.2 L388.5,63.8 L388.9,63.4 L389.3,63.0 L389.7,62.6 L390.1,62.2 L390.5,61.9 L390.9,61.5 L391.3,61.1 L391.7,60.8 L392.1,60.5 L392.5,60.2 L392.9,59.8 L393.3,59.5 L393.7,59.2 L394.1,58.9 L394.5,58.7 L394.9,58.4 L395.3,58.1 L395.7,57.8 L396.1,57.6 L396.5,57.3 L396.9,57.1 L397.3,56.8 L397.7,56.6 L398.1,56.4 L398.5,56.1 L398.9,55.9 L399.3,55.7 L399.7,55.5 L400.1,55.3 L400.5,55.1 L400.9,54.9 L401.3,54.7 L401.7,54.5 L402.1,54.4 L402.5,54.2 L402.9,54.0 L403.3,53.9 L403.7,53.7 L404.1,53.5 L404.5,53.4 L404.9,53.2 L405.3,53.1 L405.7,52.9 L406.1,52.8 L406.5,52.6 L406.9,52.5 L407.3,52.4 L407.7,52.2 L408.1,52.1 L408.5,52.0 L408.9,51.8 L409.3,51.7 L409.7,51.6 L410.1,51.5 L410.5,51.4 L410.9,51.3 L411.3,51.2 L411.7,51.0 L412.1,50.9 L412.5,50.8 L412.9,50.8 L413.3,50.7 L413.7,50.6 L414.1,50.5 L414.5,50.4 L414.9,50.3 L415.3,50.2 L415.7,50.1 L416.1,50.0 L416.5,49.9 L416.9,49.9 L417.3,49.8 L417.7,49.7 L418.1,49.6 L418.5,49.5 L418.9,49.5 L419.3,49.4 L419.7,49.3 L420.1,49.3 L420.5,49.2 L420.9,49.1 L421.3,49.1 L421.7,49.0 L422.1,49.0 L422.5,48.9 L422.9,48.9 L423.3,48.8 L423.7,48.8 L424.1,48.8 L424.5,48.7 L424.9,48.7 L425.3,48.6 L425.7,48.6 L426.1,48.6 L426.5,48.5 L426.9,48.5 L427.3,48.5 L427.7,48.5 L428.1,48.4 L428.5,48.4 L428.9,48.4 L429.3,48.3 L429.7,48.3 L430.1,48.3 L430.5,48.3 L430.9,48.2 L431.3,48.2 L431.7,48.2 L432.1,48.2 L432.5,48.2 L432.9,48.1 L433.3,48.1 L433.7,48.1 L434.1,48.1 L434.5,48.0 L434.9,48.0 L435.3,48.0 L435.7,48.0 L436.1,47.9 L436.5,47.9 L436.9,47.9 L437.3,47.8 L437.7,47.8 L438.1,47.8 L438.5,47.8 L438.9,47.7 L439.3,47.7 L439.7,47.7 L440.1,47.6 L440.5,47.6 L440.9,47.6 L441.3,47.6 L441.7,47.5 L442.1,47.5 L442.5,47.5 L442.9,47.5 L443.3,47.4 L443.7,47.4 L444.1,47.4 L444.5,47.4 L444.9,47.3 L445.3,47.3 L445.7,47.3 L446.1,47.3 L446.5,47.3 L446.9,47.2 L447.3,47.2 L447.7,47.2 L448.1,47.2 L448.5,47.2 L448.9,47.2 L449.3,47.2 L449.7,47.2 L450.1,47.2 L450.5,47.1 L450.9,47.1 L451.3,47.1 L451.7,47.1 L452.1,47.1 L452.5,47.1 L452.9,47.1 L453.3,47.1 L453.7,47.1 L454.1,47.1 L454.5,47.0 L454.9,47.0 L455.3,47.0 L455.7,47.0 L456.1,47.0 L456.5,47.0 L456.9,47.0 L457.3,47.0 L457.7,47.0 L458.1,47.0 L458.5,47.0 L458.9,47.0 L459.3,47.0 L459.7,47.0 L460.1,46.9 L460.5,46.9 L460.9,46.9 L461.3,46.9 L461.7,46.9 L462.1,46.9 L462.5,46.9 L462.9,46.9 L463.3,46.9 L463.7,46.9 L464.1,46.9 L464.5,46.9 L464.9,46.9 L465.3,46.9 L465.7,46.9 L466.1,46.9 L466.5,46.9 L466.9,46.9 L467.3,46.9 L467.7,46.9 L468.1,46.9 L468.5,46.9 L468.9,46.9 L469.3,46.9 L469.7,47.0 L470.1,47.0 L470.5,47.0 L470.9,47.0 L471.3,47.0 L471.7,47.0 L472.1,47.0 L472.5,47.1 L472.9,47.1 L473.3,47.1 L473.7,47.1 L474.1,47.1 L474.5,47.2 L474.9,47.2 L475.3,47.2 L475.7,47.2 L476.1,47.3 L476.5,47.3 L476.9,47.3 L477.3,47.3 L477.7,47.4 L478.1,47.4 L478.5,47.4 L478.9,47.4 L479.3,47.5 L479.7,47.5 L480.1,47.5 L480.5,47.5 L480.9,47.6 L481.3,47.6 L481.7,47.6 L482.1,47.7 L482.5,47.7 L482.9,47.7 L483.3,47.7 L483.7,47.8 L484.1,47.8 L484.5,47.8 L484.9,47.8 L485.3,47.8 L485.7,47.9 L486.1,47.9 L486.5,47.9 L486.9,47.9 L487.3,48.0 L487.7,48.0 L488.1,48.0 L488.5,48.0 L488.9,48.1 L489.3,48.1 L489.7,48.1 L490.1,48.1 L490.5,48.1 L490.9,48.2 L491.3,48.2 L491.7,48.2 L492.1,48.2 L492.5,48.3 L492.9,48.3 L493.3,48.3 L493.7,48.3 L494.1,48.4 L494.5,48.4 L494.9,48.4 L495.3,48.5 L495.7,48.5 L496.1,48.5 L496.5,48.5 L496.9,48.6 L497.3,48.6 L497.7,48.6 L498.1,48.6 L498.5,48.7 L498.9,48.7 L499.3,48.7 L499.7,48.8 L500.1,48.8 L500.5,48.8 L500.9,48.9 L501.3,48.9 L501.7,48.9 L502.1,49.0 L502.5,49.0 L502.9,49.0 L503.3,49.0 L503.7,49.1 L504.1,49.1 L504.5,49.2 L504.9,49.2 L505.3,49.2 L505.7,49.3 L506.1,49.3 L506.5,49.3 L506.9,49.4 L507.3,49.4 L507.7,49.4 L508.1,49.5 L508.5,49.5 L508.9,49.6 L509.3,49.6 L509.7,49.6 L510.1,49.7 L510.5,49.7 L510.9,49.8 L511.3,49.8 L511.7,49.9 L512.1,49.9 L512.5,49.9 L512.9,50.0 L513.3,50.0 L513.7,50.1 L514.1,50.1 L514.5,50.2 L514.9,50.2 L515.3,50.3 L515.7,50.3 L516.1,50.4 L516.5,50.4 L516.9,50.4 L517.3,50.5 L517.7,50.5 L518.1,50.6 L518.5,50.6 L518.9,50.7 L519.3,50.7 L519.7,50.8 L520.1,50.8 L520.5,50.9 L520.9,50.9 L521.3,51.0 L521.7,51.0 L522.1,51.1 L522.5,51.2 L522.9,51.2 L523.3,51.3 L523.7,51.3 L524.1,51.4 L524.5,51.4 L524.9,51.5" fill="none" stroke="#ff0000" stroke-width="1.7" stroke-linejoin="round"/>
<path d="M94.9,26.5l2.9,5.3h-5.8zM96.3,26.5l2.9,5.3h-5.8zM97.8,26.5l2.9,5.3h-5.8zM99.2,26.5l2.9,5.3h-5.8zM100.6,26.5l2.9,5.3h-5.8zM102.1,26.5l2.9,5.3h-5.8zM103.5,26.5l2.9,5.3h-5.8zM104.9,26.6l2.9,5.3h-5.8zM106.4,26.6l2.9,5.3h-5.8zM107.8,26.6l2.9,5.3h-5.8zM109.2,26.6l2.9,5.3h-5.8zM110.7,26.6l2.9,5.3h-5.8zM112.1,26.6l2.9,5.3h-5.8zM113.5,26.6l2.9,5.3h-5.8zM115.0,26.6l2.9,5.3h-5.8zM116.4,26.6l2.9,5.3h-5.8zM117.8,26.7l2.9,5.3h-5.8zM119.3,26.7l2.9,5.3h-5.8zM120.7,26.7l2.9,5.3h-5.8zM122.1,26.7l2.9,5.3h-5.8zM123.6,26.7l2.9,5.3h-5.8zM125.0,26.7l2.9,5.3h-5.8zM126.4,26.8l2.9,5.3h-5.8zM127.9,26.8l2.9,5.3h-5.8zM129.3,26.8l2.9,5.3h-5.8zM130.7,26.8l2.9,5.3h-5.8zM132.2,26.8l2.9,5.3h-5.8zM133.6,26.9l2.9,5.3h-5.8zM135.1,26.9l2.9,5.3h-5.8zM136.5,26.9l2.9,5.3h-5.8zM137.9,27.0l2.9,5.3h-5.8zM139.4,27.0l2.9,5.3h-5.8zM140.8,27.0l2.9,5.3h-5.8zM142.2,27.1l2.9,5.3h-5.8zM143.7,27.1l2.9,5.3h-5.8zM145.1,27.2l2.9,5.3h-5.8zM146.5,27.2l2.9,5.3h-5.8zM148.0,27.3l2.9,5.3h-5.8zM149.4,27.4l2.9,5.3h-5.8zM150.8,27.4l2.9,5.3h-5.8zM152.3,27.5l2.9,5.3h-5.8zM153.7,27.6l2.9,5.3h-5.8zM155.1,27.7l2.9,5.3h-5.8zM156.6,27.8l2.9,5.3h-5.8zM158.0,28.0l2.9,5.3h-5.8zM159.4,28.1l2.9,5.3h-5.8zM160.9,28.3l2.9,5.3h-5.8zM162.3,28.5l2.9,5.3h-5.8zM163.7,28.6l2.9,5.3h-5.8zM165.2,28.8l2.9,5.3h-5.8zM166.6,29.0l2.9,5.3h-5.8zM168.0,29.2l2.9,5.3h-5.8zM169.5,29.5l2.9,5.3h-5.8zM170.9,29.7l2.9,5.3h-5.8zM172.3,30.0l2.9,5.3h-5.8zM173.8,30.3l2.9,5.3h-5.8zM175.2,30.7l2.9,5.3h-5.8zM176.6,31.1l2.9,5.3h-5.8zM178.1,31.6l2.9,5.3h-5.8zM179.5,32.2l2.9,5.3h-5.8zM180.9,32.9l2.9,5.3h-5.8zM182.4,33.7l2.9,5.3h-5.8zM183.8,34.6l2.9,5.3h-5.8zM185.2,35.6l2.9,5.3h-5.8zM186.7,36.8l2.9,5.3h-5.8zM188.1,38.0l2.9,5.3h-5.8zM189.5,39.5l2.9,5.3h-5.8zM191.0,41.0l2.9,5.3h-5.8zM192.4,42.6l2.9,5.3h-5.8zM193.8,44.4l2.9,5.3h-5.8zM195.3,46.4l2.9,5.3h-5.8zM196.7,48.5l2.9,5.3h-5.8zM198.1,50.8l2.9,5.3h-5.8zM199.6,53.4l2.9,5.3h-5.8zM201.0,56.4l2.9,5.3h-5.8zM202.4,59.7l2.9,5.3h-5.8zM203.9,63.7l2.9,5.3h-5.8zM205.3,68.4l2.9,5.3h-5.8zM206.8,74.2l2.9,5.3h-5.8zM208.2,82.0l2.9,5.3h-5.8zM209.6,93.1l2.9,5.3h-5.8zM211.1,104.2l2.9,5.3h-5.8zM212.5,115.6l2.9,5.3h-5.8zM213.9,126.4l2.9,5.3h-5.8zM215.4,131.4l2.9,5.3h-5.8zM216.8,126.2l2.9,5.3h-5.8zM218.2,114.3l2.9,5.3h-5.8zM219.7,102.7l2.9,5.3h-5.8zM221.1,92.3l2.9,5.3h-5.8zM222.5,82.1l2.9,5.3h-5.8zM224.0,73.4l2.9,5.3h-5.8zM225.4,65.9l2.9,5.3h-5.8zM226.8,59.5l2.9,5.3h-5.8zM228.3,53.7l2.9,5.3h-5.8zM229.7,49.3l2.9,5.3h-5.8zM231.1,46.5l2.9,5.3h-5.8zM232.6,44.1l2.9,5.3h-5.8zM234.0,42.4l2.9,5.3h-5.8zM235.4,41.3l2.9,5.3h-5.8zM236.9,40.9l2.9,5.3h-5.8zM238.3,40.5l2.9,5.3h-5.8zM239.7,40.2l2.9,5.3h-5.8zM241.2,40.0l2.9,5.3h-5.8zM242.6,40.1l2.9,5.3h-5.8zM244.0,40.3l2.9,5.3h-5.8zM245.5,40.8l2.9,5.3h-5.8zM246.9,41.4l2.9,5.3h-5.8zM248.3,42.1l2.9,5.3h-5.8zM249.8,42.9l2.9,5.3h-5.8zM251.2,44.0l2.9,5.3h-5.8zM252.6,45.6l2.9,5.3h-5.8zM254.1,47.7l2.9,5.3h-5.8zM255.5,50.1l2.9,5.3h-5.8zM256.9,52.7l2.9,5.3h-5.8zM258.4,55.4l2.9,5.3h-5.8zM259.8,58.7l2.9,5.3h-5.8zM261.2,62.3l2.9,5.3h-5.8zM262.7,65.8l2.9,5.3h-5.8zM264.1,68.9l2.9,5.3h-5.8zM265.5,71.9l2.9,5.3h-5.8zM267.0,75.4l2.9,5.3h-5.8zM268.4,80.1l2.9,5.3h-5.8zM269.8,86.9l2.9,5.3h-5.8zM271.3,95.3l2.9,5.3h-5.8zM272.7,104.2l2.9,5.3h-5.8zM274.1,113.7l2.9,5.3h-5.8zM275.6,124.3l2.9,5.3h-5.8zM277.0,136.1l2.9,5.3h-5.8zM278.5,150.3l2.9,5.3h-5.8zM279.9,163.6l2.9,5.3h-5.8zM281.3,177.3l2.9,5.3h-5.8zM282.8,192.6l2.9,5.3h-5.8zM284.2,208.4l2.9,5.3h-5.8zM285.6,209.2l2.9,5.3h-5.8zM287.1,196.5l2.9,5.3h-5.8zM288.5,179.3l2.9,5.3h-5.8zM289.9,166.9l2.9,5.3h-5.8zM291.4,157.3l2.9,5.3h-5.8zM292.8,147.1l2.9,5.3h-5.8zM294.2,133.6l2.9,5.3h-5.8zM295.7,121.1l2.9,5.3h-5.8zM297.1,111.5l2.9,5.3h-5.8zM298.5,103.1l2.9,5.3h-5.8zM300.0,95.1l2.9,5.3h-5.8zM301.4,87.4l2.9,5.3h-5.8zM302.8,80.6l2.9,5.3h-5.8zM304.3,75.0l2.9,5.3h-5.8zM305.7,70.1l2.9,5.3h-5.8zM307.1,66.2l2.9,5.3h-5.8zM308.6,63.3l2.9,5.3h-5.8zM310.0,60.7l2.9,5.3h-5.8zM311.4,57.9l2.9,5.3h-5.8zM312.9,55.1l2.9,5.3h-5.8zM314.3,52.5l2.9,5.3h-5.8zM315.7,50.0l2.9,5.3h-5.8zM317.2,47.6l2.9,5.3h-5.8zM318.6,45.4l2.9,5.3h-5.8zM320.0,43.4l2.9,5.3h-5.8zM321.5,41.5l2.9,5.3h-5.8zM322.9,39.9l2.9,5.3h-5.8zM324.3,38.6l2.9,5.3h-5.8zM325.8,37.3l2.9,5.3h-5.8zM327.2,36.3l2.9,5.3h-5.8zM328.6,35.7l2.9,5.3h-5.8zM330.1,35.4l2.9,5.3h-5.8zM331.5,35.1l2.9,5.3h-5.8zM332.9,35.0l2.9,5.3h-5.8zM334.4,34.8l2.9,5.3h-5.8zM335.8,34.8l2.9,5.3h-5.8zM337.2,35.3l2.9,5.3h-5.8zM338.7,36.2l2.9,5.3h-5.8zM340.1,37.3l2.9,5.3h-5.8zM341.5,38.7l2.9,5.3h-5.8zM343.0,40.8l2.9,5.3h-5.8zM344.4,43.4l2.9,5.3h-5.8zM345.8,46.3l2.9,5.3h-5.8zM347.3,49.7l2.9,5.3h-5.8zM348.7,53.6l2.9,5.3h-5.8zM350.2,57.8l2.9,5.3h-5.8zM351.6,65.7l2.9,5.3h-5.8zM353.0,79.6l2.9,5.3h-5.8zM354.5,89.8l2.9,5.3h-5.8zM355.9,99.9l2.9,5.3h-5.8zM357.3,113.7l2.9,5.3h-5.8zM358.8,129.3l2.9,5.3h-5.8zM360.2,140.6l2.9,5.3h-5.8zM361.6,148.9l2.9,5.3h-5.8zM363.1,148.3l2.9,5.3h-5.8zM364.5,141.2l2.9,5.3h-5.8zM365.9,132.2l2.9,5.3h-5.8zM367.4,124.2l2.9,5.3h-5.8zM368.8,115.9l2.9,5.3h-5.8zM370.2,108.5l2.9,5.3h-5.8zM371.7,102.2l2.9,5.3h-5.8zM373.1,96.6l2.9,5.3h-5.8zM374.5,91.2l2.9,5.3h-5.8zM376.0,86.0l2.9,5.3h-5.8zM377.4,81.1l2.9,5.3h-5.8zM378.8,76.9l2.9,5.3h-5.8zM380.3,73.4l2.9,5.3h-5.8zM381.7,70.2l2.9,5.3h-5.8zM383.1,67.6l2.9,5.3h-5.8zM384.6,65.4l2.9,5.3h-5.8zM386.0,63.5l2.9,5.3h-5.8zM387.4,61.8l2.9,5.3h-5.8zM388.9,60.2l2.9,5.3h-5.8zM390.3,58.9l2.9,5.3h-5.8zM391.7,57.6l2.9,5.3h-5.8zM393.2,56.5l2.9,5.3h-5.8zM394.6,55.4l2.9,5.3h-5.8zM396.0,54.4l2.9,5.3h-5.8zM397.5,53.5l2.9,5.3h-5.8zM398.9,52.7l2.9,5.3h-5.8zM400.3,52.0l2.9,5.3h-5.8zM401.8,51.3l2.9,5.3h-5.8zM403.2,50.7l2.9,5.3h-5.8zM404.6,50.1l2.9,5.3h-5.8zM406.1,49.6l2.9,5.3h-5.8zM407.5,49.1l2.9,5.3h-5.8zM408.9,48.6l2.9,5.3h-5.8zM410.4,48.2l2.9,5.3h-5.8zM411.8,47.8l2.9,5.3h-5.8zM413.2,47.5l2.9,5.3h-5.8zM414.7,47.2l2.9,5.3h-5.8zM416.1,46.8l2.9,5.3h-5.8zM417.5,46.6l2.9,5.3h-5.8zM419.0,46.3l2.9,5.3h-5.8zM420.4,46.0l2.9,5.3h-5.8zM421.9,45.8l2.9,5.3h-5.8zM423.3,45.7l2.9,5.3h-5.8zM424.7,45.5l2.9,5.3h-5.8zM426.2,45.4l2.9,5.3h-5.8zM427.6,45.3l2.9,5.3h-5.8zM429.0,45.2l2.9,5.3h-5.8zM430.5,45.1l2.9,5.3h-5.8zM431.9,45.0l2.9,5.3h-5.8zM433.3,44.9l2.9,5.3h-5.8zM434.8,44.8l2.9,5.3h-5.8zM436.2,44.7l2.9,5.3h-5.8zM437.6,44.6l2.9,5.3h-5.8zM439.1,44.5l2.9,5.3h-5.8zM440.5,44.4l2.9,5.3h-5.8zM441.9,44.3l2.9,5.3h-5.8zM443.4,44.2l2.9,5.3h-5.8zM444.8,44.2l2.9,5.3h-5.8zM446.2,44.1l2.9,5.3h-5.8zM447.7,44.0l2.9,5.3h-5.8zM449.1,44.0l2.9,5.3h-5.8zM450.5,44.0l2.9,5.3h-5.8zM452.0,43.9l2.9,5.3h-5.8zM453.4,43.9l2.9,5.3h-5.8zM454.8,43.9l2.9,5.3h-5.8zM456.3,43.8l2.9,5.3h-5.8zM457.7,43.8l2.9,5.3h-5.8zM459.1,43.8l2.9,5.3h-5.8zM460.6,43.8l2.9,5.3h-5.8zM462.0,43.7l2.9,5.3h-5.8zM463.4,43.7l2.9,5.3h-5.8zM464.9,43.7l2.9,5.3h-5.8zM466.3,43.7l2.9,5.3h-5.8zM467.7,43.7l2.9,5.3h-5.8zM469.2,43.8l2.9,5.3h-5.8zM470.6,43.8l2.9,5.3h-5.8zM472.0,43.9l2.9,5.3h-5.8zM473.5,43.9l2.9,5.3h-5.8zM474.9,44.0l2.9,5.3h-5.8zM476.3,44.1l2.9,5.3h-5.8zM477.8,44.2l2.9,5.3h-5.8zM479.2,44.3l2.9,5.3h-5.8zM480.6,44.4l2.9,5.3h-5.8zM482.1,44.5l2.9,5.3h-5.8zM483.5,44.6l2.9,5.3h-5.8zM484.9,44.6l2.9,5.3h-5.8zM486.4,44.7l2.9,5.3h-5.8zM487.8,44.8l2.9,5.3h-5.8zM489.2,44.9l2.9,5.3h-5.8zM490.7,45.0l2.9,5.3h-5.8zM492.1,45.1l2.9,5.3h-5.8zM493.6,45.2l2.9,5.3h-5.8zM495.0,45.3l2.9,5.3h-5.8zM496.4,45.3l2.9,5.3h-5.8zM497.9,45.4l2.9,5.3h-5.8zM499.3,45.6l2.9,5.3h-5.8zM500.7,45.7l2.9,5.3h-5.8zM502.2,45.8l2.9,5.3h-5.8zM503.6,45.9l2.9,5.3h-5.8zM505.0,46.0l2.9,5.3h-5.8zM506.5,46.1l2.9,5.3h-5.8zM507.9,46.3l2.9,5.3h-5.8zM509.3,46.4l2.9,5.3h-5.8zM510.8,46.6l2.9,5.3h-5.8zM512.2,46.7l2.9,5.3h-5.8zM513.6,46.9l2.9,5.3h-5.8zM515.1,47.0l2.9,5.3h-5.8zM516.5,47.2l2.9,5.3h-5.8zM517.9,47.4l2.9,5.3h-5.8zM519.4,47.6l2.9,5.3h-5.8zM520.8,47.7l2.9,5.3h-5.8zM522.2,47.9l2.9,5.3h-5.8zM523.7,48.1l2.9,5.3h-5.8zM525.1,48.3l2.9,5.3h-5.8z" fill="#ff0000"/>
<path d="M94.9,26.0 L95.3,26.0 L95.7,26.0 L96.1,26.0 L96.5,26.0 L96.9,26.0 L97.3,26.0 L97.7,26.0 L98.1,26.1 L98.5,26.1 L98.9,26.1 L99.3,26.1 L99.7,26.1 L100.1,26.1 L100.5,26.1 L100.9,26.1 L101.3,26.1 L101.7,26.1 L102.1,26.1 L102.5,26.1 L102.9,26.1 L103.3,26.1 L103.7,26.2 L104.1,26.2 L104.5,26.2 L104.9,26.2 L105.3,26.2 L105.7,26.2 L106.1,26.2 L106.5,26.2 L106.9,26.2 L107.3,26.2 L107.7,26.2 L108.1,26.3 L108.5,26.3 L108.9,26.3 L109.3,26.3 L109.7,26.3 L110.1,26.3 L110.5,26.3 L110.9,26.3 L111.3,26.3 L111.7,26.3 L112.1,26.4 L112.5,26.4 L112.9,26.4 L113.3,26.4 L113.7,26.4 L114.1,26.4 L114.5,26.4 L114.9,26.4 L115.3,26.4 L115.7,26.5 L116.1,26.5 L116.5,26.5 L116.9,26.5 L117.3,26.5 L117.7,26.5 L118.1,26.5 L118.5,26.5 L118.9,26.5 L119.3,26.6 L119.7,26.6 L120.1,26.6 L120.5,26.6 L120.9,26.6 L121.3,26.6 L121.7,26.6 L122.1,26.6 L122.5,26.7 L122.9,26.7 L123.3,26.7 L123.7,26.7 L124.1,26.7 L124.5,26.7 L124.9,26.7 L125.3,26.7 L125.7,26.8 L126.1,26.8 L126.5,26.8 L126.9,26.8 L127.3,26.8 L127.7,26.8 L128.1,26.8 L128.5,26.8 L128.9,26.9 L129.3,26.9 L129.7,26.9 L130.1,26.9 L130.5,26.9 L130.9,26.9 L131.3,26.9 L131.7,26.9 L132.1,27.0 L132.5,27.0 L132.9,27.0 L133.3,27.0 L133.7,27.0 L134.1,27.0 L134.5,27.0 L134.9,27.1 L135.3,27.1 L135.7,27.1 L136.1,27.1 L136.5,27.1 L136.9,27.1 L137.3,27.2 L137.7,27.2 L138.1,27.2 L138.5,27.2 L138.9,27.2 L139.3,27.2 L139.7,27.3 L140.1,27.3 L140.5,27.3 L140.9,27.3 L141.3,27.3 L141.7,27.3 L142.1,27.4 L142.5,27.4 L142.9,27.4 L143.3,27.4 L143.7,27.4 L144.1,27.5 L144.5,27.5 L144.9,27.5 L145.3,27.5 L145.7,27.5 L146.1,27.5 L146.5,27.6 L146.9,27.6 L147.3,27.6 L147.7,27.6 L148.1,27.6 L148.5,27.7 L148.9,27.7 L149.3,27.7 L149.7,27.7 L150.1,27.7 L150.5,27.8 L150.9,27.8 L151.3,27.8 L151.7,27.8 L152.1,27.8 L152.5,27.9 L152.9,27.9 L153.3,27.9 L153.7,27.9 L154.1,27.9 L154.5,28.0 L154.9,28.0 L155.3,28.0 L155.7,28.0 L156.1,28.1 L156.5,28.1 L156.9,28.1 L157.3,28.1 L157.7,28.1 L158.1,28.2 L158.5,28.2 L158.9,28.2 L159.3,28.2 L159.7,28.3 L160.1,28.3 L160.5,28.3 L160.9,28.3 L161.3,28.3 L161.7,28.4 L162.1,28.4 L162.5,28.4 L162.9,28.4 L163.3,28.4 L163.7,28.5 L164.1,28.5 L164.5,28.5 L164.9,28.5 L165.3,28.6 L165.7,28.6 L166.1,28.6 L166.5,28.6 L166.9,28.7 L167.3,28.7 L167.7,28.7 L168.1,28.7 L168.5,28.7 L168.9,28.8 L169.3,28.8 L169.7,28.8 L170.1,28.8 L170.5,28.9 L170.9,28.9 L171.3,28.9 L171.7,29.0 L172.1,29.0 L172.5,29.0 L172.9,29.0 L173.3,29.1 L173.7,29.1 L174.1,29.1 L174.5,29.1 L174.9,29.2 L175.3,29.2 L175.7,29.2 L176.1,29.3 L176.5,29.3 L176.9,29.3 L177.3,29.4 L177.7,29.4 L178.1,29.4 L178.5,29.5 L178.9,29.5 L179.3,29.5 L179.7,29.6 L180.1,29.6 L180.5,29.6 L180.9,29.7 L181.3,29.7 L181.7,29.8 L182.1,29.8 L182.5,29.9 L182.9,29.9 L183.3,29.9 L183.7,30.0 L184.1,30.0 L184.5,30.1 L184.9,30.1 L185.3,30.2 L185.7,30.2 L186.1,30.3 L186.5,30.4 L186.9,30.4 L187.3,30.5 L187.7,30.5 L188.1,30.6 L188.5,30.7 L188.9,30.7 L189.3,30.8 L189.7,30.9 L190.1,30.9 L190.5,31.0 L190.9,31.1 L191.3,31.1 L191.7,31.2 L192.1,31.3 L192.5,31.4 L192.9,31.5 L193.3,31.6 L193.7,31.7 L194.1,31.8 L194.5,31.9 L194.9,32.0 L195.3,32.1 L195.7,32.2 L196.1,32.3 L196.5,32.4 L196.9,32.6 L197.3,32.7 L197.7,32.8 L198.1,32.9 L198.5,33.1 L198.9,33.2 L199.3,33.3 L199.7,33.5 L200.1,33.6 L200.5,33.8 L200.9,33.9 L201.3,34.1 L201.7,34.2 L202.1,34.4 L202.5,34.5 L202.9,34.7 L203.3,34.8 L203.7,35.0 L204.1,35.2 L204.5,35.4 L204.9,35.6 L205.3,35.7 L205.7,35.9 L206.1,36.1 L206.5,36.3 L206.9,36.6 L207.3,36.8 L207.7,37.0 L208.1,37.2 L208.5,37.4 L208.9,37.7 L209.3,37.9 L209.7,38.1 L210.1,38.4 L210.5,38.6 L210.9,38.8 L211.3,39.1 L211.7,39.3 L212.1,39.6 L212.5,39.8 L212.9,40.1 L213.3,40.4 L213.7,40.6 L214.1,40.9 L214.5,41.2 L214.9,41.5 L215.3,41.8 L215.7,42.1 L216.1,42.4 L216.5,42.7 L216.9,43.1 L217.3,43.4 L217.7,43.8 L218.1,44.2 L218.5,44.6 L218.9,45.0 L219.3,45.4 L219.7,45.8 L220.1,46.3 L220.5,46.8 L220.9,47.3 L221.3,47.8 L221.7,48.3 L222.1,48.9 L222.5,49.5 L222.9,50.0 L223.3,50.7 L223.7,51.3 L224.1,52.0 L224.5,52.7 L224.9,53.4 L225.3,54.2 L225.7,55.1 L226.1,56.0 L226.5,56.9 L226.9,58.0 L227.3,59.2 L227.7,60.5 L228.1,61.9 L228.5,63.4 L228.9,64.9 L229.3,66.5 L229.7,68.1 L230.1,69.7 L230.5,71.4 L230.9,73.1 L231.3,74.9 L231.7,76.8 L232.1,78.6 L232.5,80.5 L232.9,82.4 L233.3,84.3 L233.7,86.2 L234.1,88.3 L234.5,90.6 L234.9,93.2 L235.3,96.1 L235.7,99.1 L236.1,102.2 L236.5,105.4 L236.9,108.6 L237.3,111.8 L237.7,114.9 L238.1,118.0 L238.5,121.2 L238.9,124.4 L239.3,127.6 L239.7,131.0 L240.1,134.4 L240.5,138.4 L240.9,143.2 L241.3,148.2 L241.7,152.9 L242.1,156.7 L242.5,159.2 L242.9,159.6 L243.3,155.7 L243.7,148.2 L244.1,139.6 L244.5,131.8 L244.9,126.2 L245.3,121.0 L245.7,116.1 L246.1,111.4 L246.5,106.8 L246.9,102.4 L247.3,98.2 L247.7,94.1 L248.1,90.0 L248.5,86.0 L248.9,82.1 L249.3,77.4 L249.7,72.1 L250.1,67.2 L250.5,63.8 L250.9,61.4 L251.3,59.4 L251.7,57.6 L252.1,56.0 L252.5,54.5 L252.9,53.1 L253.3,51.6 L253.7,50.2 L254.1,48.9 L254.5,47.6 L254.9,46.4 L255.3,45.2 L255.7,44.0 L256.1,42.8 L256.5,41.7 L256.9,40.6 L257.3,39.7 L257.7,39.0 L258.1,38.5 L258.5,38.0 L258.9,37.6 L259.3,37.2 L259.7,36.8 L260.1,36.4 L260.5,36.2 L260.9,35.9 L261.3,35.7 L261.7,35.5 L262.1,35.3 L262.5,35.2 L262.9,35.0 L263.3,34.9 L263.7,34.8 L264.1,34.7 L264.5,34.6 L264.9,34.5 L265.3,34.4 L265.7,34.4 L266.1,34.4 L266.5,34.4 L266.9,34.4 L267.3,34.5 L267.7,34.5 L268.1,34.5 L268.5,34.6 L268.9,34.6 L269.3,34.7 L269.7,34.8 L270.1,34.9 L270.5,35.0 L270.9,35.0 L271.3,35.1 L271.7,35.2 L272.1,35.3 L272.5,35.5 L272.9,35.6 L273.3,35.8 L273.7,36.0 L274.1,36.3 L274.5,36.5 L274.9,36.7 L275.3,37.0 L275.7,37.3 L276.1,37.5 L276.5,37.8 L276.9,38.1 L277.3,38.4 L277.7,38.7 L278.1,39.0 L278.5,39.3 L278.9,39.6 L279.3,40.0 L279.7,40.3 L280.1,40.7 L280.5,41.1 L280.9,41.4 L281.3,41.8 L281.7,42.3 L282.1,42.7 L282.5,43.1 L282.9,43.5 L283.3,43.9 L283.7,44.4 L284.1,44.8 L284.5,45.3 L284.9,45.8 L285.3,46.3 L285.7,46.8 L286.1,47.3 L286.5,47.8 L286.9,48.4 L287.3,49.0 L287.7,49.6 L288.1,50.2 L288.5,50.8 L288.9,51.5 L289.3,52.2 L289.7,52.9 L290.1,53.6 L290.5,54.4 L290.9,55.2 L291.3,56.1 L291.7,57.0 L292.1,57.9 L292.5,58.9 L292.9,59.9 L293.3,61.2 L293.7,62.5 L294.1,63.9 L294.5,65.4 L294.9,66.9 L295.3,68.2 L295.7,69.5 L296.1,70.7 L296.5,71.9 L296.9,73.0 L297.3,74.1 L297.7,75.2 L298.1,76.4 L298.5,77.6 L298.9,78.9 L299.3,80.3 L299.7,81.8 L300.1,83.4 L300.5,85.2 L300.9,87.0 L301.3,89.0 L301.7,91.1 L302.1,93.2 L302.5,95.4 L302.9,97.7 L303.3,100.0 L303.7,102.4 L304.1,104.8 L304.5,107.3 L304.9,109.8 L305.3,112.5 L305.7,115.2 L306.1,118.1 L306.5,121.1 L306.9,124.1 L307.3,127.2 L307.7,130.4 L308.1,133.7 L308.5,137.0 L308.9,140.5 L309.3,144.1 L309.7,148.0 L310.1,152.0 L310.5,156.3 L310.9,160.8 L311.3,165.4 L311.7,170.2 L312.1,175.2 L312.5,180.2 L312.9,185.4 L313.3,190.6 L313.7,196.1 L314.1,201.7 L314.5,207.5 L314.9,213.4 L315.3,219.4 L315.7,225.6 L316.1,233.6 L316.5,242.2 L316.9,249.5 L317.3,253.3 L317.7,252.2 L318.1,247.5 L318.5,240.7 L318.9,233.5 L319.3,227.5 L319.7,222.8 L320.1,218.4 L320.5,214.2 L320.9,210.1 L321.3,206.0 L321.7,201.8 L322.1,197.4 L322.5,192.7 L322.9,187.6 L323.3,181.9 L323.7,175.9 L324.1,169.7 L324.5,163.6 L324.9,157.7 L325.3,152.3 L325.7,147.3 L326.1,142.5 L326.5,137.9 L326.9,133.5 L327.3,129.2 L327.7,125.0 L328.1,121.1 L328.5,117.3 L328.9,113.7 L329.3,110.1 L329.7,106.5 L330.1,103.1 L330.5,99.7 L330.9,96.4 L331.3,93.3 L331.7,90.3 L332.1,87.5 L332.5,85.0 L332.9,82.6 L333.3,80.5 L333.7,78.5 L334.1,76.7 L334.5,75.0 L334.9,73.4 L335.3,71.8 L335.7,70.4 L336.1,69.0 L336.5,67.7 L336.9,66.4 L337.3,65.1 L337.7,63.9 L338.1,62.7 L338.5,61.7 L338.9,60.6 L339.3,59.6 L339.7,58.6 L340.1,57.7 L340.5,56.7 L340.9,55.7 L341.3,54.8 L341.7,53.8 L342.1,52.8 L342.5,51.8 L342.9,50.9 L343.3,49.9 L343.7,49.0 L344.1,48.1 L344.5,47.3 L344.9,46.4 L345.3,45.5 L345.7,44.7 L346.1,43.8 L346.5,43.1 L346.9,42.3 L347.3,41.6 L347.7,41.0 L348.1,40.5 L348.5,40.0 L348.9,39.5 L349.3,39.1 L349.7,38.6 L350.1,38.2 L350.5,37.7 L350.9,37.2 L351.3,36.7 L351.7,36.2 L352.1,35.7 L352.5,35.2 L352.9,34.7 L353.3,34.3 L353.7,33.9 L354.1,33.5 L354.5,33.2 L354.9,32.9 L355.3,32.7 L355.7,32.4 L356.1,32.2 L356.5,31.9 L356.9,31.7 L357.3,31.5 L357.7,31.3 L358.1,31.1 L358.5,30.9 L358.9,30.7 L359.3,30.6 L359.7,30.4 L360.1,30.3 L360.5,30.1 L360.9,30.0 L361.3,29.8 L361.7,29.7 L362.1,29.6 L362.5,29.4 L362.9,29.3 L363.3,29.2 L363.7,29.0 L364.1,28.9 L364.5,28.8 L364.9,28.8 L365.3,28.7 L365.7,28.6 L366.1,28.6 L366.5,28.6 L366.9,28.6 L367.3,28.6 L367.7,28.6 L368.1,28.7 L368.5,28.7 L368.9,28.7 L369.3,28.8 L369.7,28.8 L370.1,28.9 L370.5,28.9 L370.9,29.0 L371.3,29.0 L371.7,29.1 L372.1,29.2 L372.5,29.3 L372.9,29.4 L373.3,29.5 L373.7,29.7 L374.1,29.9 L374.5,30.1 L374.9,30.3 L375.3,30.5 L375.7,30.8 L376.1,31.0 L376.5,31.3 L376.9,31.6 L377.3,31.9 L377.7,32.2 L378.1,32.5 L378.5,32.9 L378.9,33.2 L379.3,33.6 L379.7,34.0 L380.1,34.5 L380.5,34.9 L380.9,35.4 L381.3,35.9 L381.7,36.5 L382.1,37.0 L382.5,37.6 L382.9,38.2 L383.3,38.8 L383.7,39.4 L384.1,40.1 L384.5,40.9 L384.9,41.7 L385.3,42.5 L385.7,43.4 L386.1,44.3 L386.5,45.3 L386.9,46.3 L387.3,47.3 L387.7,48.3 L388.1,49.4 L388.5,50.4 L388.9,51.6 L389.3,52.8 L389.7,54.0 L390.1,55.4 L390.5,56.9 L390.9,58.5 L391.3,60.3 L391.7,62.3 L392.1,64.6 L392.5,67.0 L392.9,69.6 L393.3,72.4 L393.7,75.2 L394.1,78.1 L394.5,81.0 L394.9,84.0 L395.3,87.1 L395.7,90.3 L396.1,93.7 L396.5,97.1 L396.9,100.7 L397.3,104.3 L397.7,108.0 L398.1,111.8 L398.5,115.6 L398.9,119.5 L399.3,123.5 L399.7,127.7 L400.1,131.9 L400.5,136.2 L400.9,140.6 L401.3,145.2 L401.7,149.8 L402.1,154.7 L402.5,160.0 L402.9,165.6 L403.3,171.2 L403.7,176.7 L404.1,181.8 L404.5,186.4 L404.9,191.0 L405.3,195.9 L405.7,200.3 L406.1,203.7 L406.5,205.4 L406.9,205.1 L407.3,203.5 L407.7,201.1 L408.1,198.4 L408.5,195.6 L408.9,193.1 L409.3,190.3 L409.7,187.4 L410.1,184.3 L410.5,181.2 L410.9,178.1 L411.3,175.0 L411.7,171.9 L412.1,168.8 L412.5,165.7 L412.9,162.5 L413.3,159.1 L413.7,155.6 L414.1,152.0 L414.5,147.9 L414.9,143.3 L415.3,138.6 L415.7,134.0 L416.1,130.1 L416.5,126.5 L416.9,123.2 L417.3,120.0 L417.7,117.0 L418.1,114.0 L418.5,111.1 L418.9,108.3 L419.3,105.4 L419.7,102.5 L420.1,99.7 L420.5,97.2 L420.9,95.0 L421.3,93.2 L421.7,91.5 L422.1,90.0 L422.5,88.5 L422.9,87.2 L423.3,85.9 L423.7,84.7 L424.1,83.6 L424.5,82.4 L424.9,81.3 L425.3,80.2 L425.7,79.1 L426.1,78.0 L426.5,77.0 L426.9,76.0 L427.3,75.1 L427.7,74.1 L428.1,73.2 L428.5,72.3 L428.9,71.3 L429.3,70.4 L429.7,69.5 L430.1,68.7 L430.5,67.8 L430.9,67.0 L431.3,66.2 L431.7,65.4 L432.1,64.6 L432.5,63.9 L432.9,63.1 L433.3,62.4 L433.7,61.6 L434.1,61.0 L434.5,60.3 L434.9,59.7 L435.3,59.1 L435.7,58.5 L436.1,58.0 L436.5,57.5 L436.9,57.0 L437.3,56.6 L437.7,56.1 L438.1,55.7 L438.5,55.3 L438.9,54.9 L439.3,54.5 L439.7,54.1 L440.1,53.7 L440.5,53.3 L440.9,53.0 L441.3,52.6 L441.7,52.3 L442.1,51.9 L442.5,51.6 L442.9,51.3 L443.3,51.0 L443.7,50.7 L444.1,50.4 L444.5,50.1 L444.9,49.8 L445.3,49.5 L445.7,49.3 L446.1,49.0 L446.5,48.8 L446.9,48.5 L447.3,48.3 L447.7,48.1 L448.1,47.8 L448.5,47.6 L448.9,47.4 L449.3,47.2 L449.7,47.0 L450.1,46.8 L450.5,46.6 L450.9,46.4 L451.3,46.2 L451.7,46.0 L452.1,45.8 L452.5,45.6 L452.9,45.5 L453.3,45.3 L453.7,45.1 L454.1,45.0 L454.5,44.8 L454.9,44.7 L455.3,44.5 L455.7,44.4 L456.1,44.3 L456.5,44.1 L456.9,44.0 L457.3,43.8 L457.7,43.7 L458.1,43.6 L458.5,43.5 L458.9,43.3 L459.3,43.2 L459.7,43.1 L460.1,43.0 L460.5,42.9 L460.9,42.8 L461.3,42.7 L461.7,42.6 L462.1,42.5 L462.5,42.4 L462.9,42.3 L463.3,42.2 L463.7,42.1 L464.1,42.1 L464.5,42.0 L464.9,41.9 L465.3,41.8 L465.7,41.7 L466.1,41.7 L466.5,41.6 L466.9,41.5 L467.3,41.5 L467.7,41.4 L468.1,41.3 L468.5,41.3 L468.9,41.2 L469.3,41.1 L469.7,41.1 L470.1,41.0 L470.5,41.0 L470.9,40.9 L471.3,40.9 L471.7,40.8 L472.1,40.8 L472.5,40.7 L472.9,40.7 L473.3,40.6 L473.7,40.6 L474.1,40.5 L474.5,40.5 L474.9,40.4 L475.3,40.4 L475.7,40.3 L476.1,40.3 L476.5,40.3 L476.9,40.2 L477.3,40.2 L477.7,40.1 L478.1,40.1 L478.5,40.1 L478.9,40.1 L479.3,40.0 L479.7,40.0 L480.1,40.0 L480.5,40.0 L480.9,40.0 L481.3,39.9 L481.7,39.9 L482.1,39.9 L482.5,39.9 L482.9,39.9 L483.3,39.9 L483.7,39.8 L484.1,39.8 L484.5,39.8 L484.9,39.8 L485.3,39.8 L485.7,39.8 L486.1,39.8 L486.5,39.7 L486.9,39.7 L487.3,39.7 L487.7,39.7 L488.1,39.7 L488.5,39.7 L488.9,39.7 L489.3,39.7 L489.7,39.7 L490.1,39.7 L490.5,39.7 L490.9,39.7 L491.3,39.7 L491.7,39.7 L492.1,39.7 L492.5,39.7 L492.9,39.7 L493.3,39.7 L493.7,39.7 L494.1,39.7 L494.5,39.7 L494.9,39.7 L495.3,39.7 L495.7,39.7 L496.1,39.7 L496.5,39.7 L496.9,39.7 L497.3,39.7 L497.7,39.7 L498.1,39.7 L498.5,39.7 L498.9,39.7 L499.3,39.7 L499.7,39.7 L500.1,39.7 L500.5,39.7 L500.9,39.7 L501.3,39.7 L501.7,39.8 L502.1,39.8 L502.5,39.8 L502.9,39.8 L503.3,39.8 L503.7,39.8 L504.1,39.8 L504.5,39.8 L504.9,39.8 L505.3,39.8 L505.7,39.8 L506.1,39.8 L506.5,39.8 L506.9,39.8 L507.3,39.8 L507.7,39.8 L508.1,39.8 L508.5,39.9 L508.9,39.9 L509.3,39.9 L509.7,39.9 L510.1,39.9 L510.5,40.0 L510.9,40.0 L511.3,40.0 L511.7,40.1 L512.1,40.1 L512.5,40.1 L512.9,40.2 L513.3,40.2 L513.7,40.2 L514.1,40.2 L514.5,40.3 L514.9,40.3 L515.3,40.3 L515.7,40.4 L516.1,40.4 L516.5,40.4 L516.9,40.5 L517.3,40.5 L517.7,40.5 L518.1,40.6 L518.5,40.6 L518.9,40.6 L519.3,40.7 L519.7,40.7 L520.1,40.8 L520.5,40.8 L520.9,40.8 L521.3,40.9 L521.7,40.9 L522.1,41.0 L522.5,41.0 L522.9,41.1 L523.3,41.1 L523.7,41.1 L524.1,41.2 L524.5,41.2 L524.9,41.3" fill="none" stroke="#000" stroke-width="1.5" stroke-linejoin="round"/>
<path d="M94.9,24.9 L95.3,24.9 L95.7,24.9 L96.1,24.9 L96.5,24.9 L96.9,24.9 L97.3,24.9 L97.7,24.9 L98.1,24.9 L98.5,25.0 L98.9,25.0 L99.3,25.0 L99.7,25.0 L100.1,25.0 L100.5,25.0 L100.9,25.0 L101.3,25.0 L101.7,25.0 L102.1,25.0 L102.5,25.0 L102.9,25.0 L103.3,25.1 L103.7,25.1 L104.1,25.1 L104.5,25.1 L104.9,25.1 L105.3,25.1 L105.7,25.1 L106.1,25.1 L106.5,25.1 L106.9,25.1 L107.3,25.1 L107.7,25.2 L108.1,25.2 L108.5,25.2 L108.9,25.2 L109.3,25.2 L109.7,25.2 L110.1,25.2 L110.5,25.2 L110.9,25.2 L111.3,25.3 L111.7,25.3 L112.1,25.3 L112.5,25.3 L112.9,25.3 L113.3,25.3 L113.7,25.3 L114.1,25.3 L114.5,25.3 L114.9,25.4 L115.3,25.4 L115.7,25.4 L116.1,25.4 L116.5,25.4 L116.9,25.4 L117.3,25.4 L117.7,25.5 L118.1,25.5 L118.5,25.5 L118.9,25.5 L119.3,25.5 L119.7,25.5 L120.1,25.5 L120.5,25.5 L120.9,25.6 L121.3,25.6 L121.7,25.6 L122.1,25.6 L122.5,25.6 L122.9,25.6 L123.3,25.6 L123.7,25.7 L124.1,25.7 L124.5,25.7 L124.9,25.7 L125.3,25.7 L125.7,25.7 L126.1,25.7 L126.5,25.8 L126.9,25.8 L127.3,25.8 L127.7,25.8 L128.1,25.8 L128.5,25.8 L128.9,25.8 L129.3,25.9 L129.7,25.9 L130.1,25.9 L130.5,25.9 L130.9,25.9 L131.3,25.9 L131.7,26.0 L132.1,26.0 L132.5,26.0 L132.9,26.0 L133.3,26.0 L133.7,26.0 L134.1,26.0 L134.5,26.1 L134.9,26.1 L135.3,26.1 L135.7,26.1 L136.1,26.1 L136.5,26.2 L136.9,26.2 L137.3,26.2 L137.7,26.2 L138.1,26.2 L138.5,26.2 L138.9,26.3 L139.3,26.3 L139.7,26.3 L140.1,26.3 L140.5,26.3 L140.9,26.4 L141.3,26.4 L141.7,26.4 L142.1,26.4 L142.5,26.4 L142.9,26.5 L143.3,26.5 L143.7,26.5 L144.1,26.5 L144.5,26.5 L144.9,26.6 L145.3,26.6 L145.7,26.6 L146.1,26.6 L146.5,26.6 L146.9,26.7 L147.3,26.7 L147.7,26.7 L148.1,26.7 L148.5,26.8 L148.9,26.8 L149.3,26.8 L149.7,26.8 L150.1,26.9 L150.5,26.9 L150.9,26.9 L151.3,26.9 L151.7,27.0 L152.1,27.0 L152.5,27.0 L152.9,27.0 L153.3,27.1 L153.7,27.1 L154.1,27.1 L154.5,27.1 L154.9,27.2 L155.3,27.2 L155.7,27.2 L156.1,27.3 L156.5,27.3 L156.9,27.3 L157.3,27.3 L157.7,27.4 L158.1,27.4 L158.5,27.4 L158.9,27.5 L159.3,27.5 L159.7,27.5 L160.1,27.6 L160.5,27.6 L160.9,27.6 L161.3,27.7 L161.7,27.7 L162.1,27.7 L162.5,27.8 L162.9,27.8 L163.3,27.8 L163.7,27.9 L164.1,27.9 L164.5,28.0 L164.9,28.0 L165.3,28.1 L165.7,28.1 L166.1,28.2 L166.5,28.2 L166.9,28.3 L167.3,28.3 L167.7,28.4 L168.1,28.4 L168.5,28.5 L168.9,28.5 L169.3,28.6 L169.7,28.7 L170.1,28.7 L170.5,28.8 L170.9,28.8 L171.3,28.9 L171.7,29.0 L172.1,29.1 L172.5,29.1 L172.9,29.2 L173.3,29.3 L173.7,29.4 L174.1,29.5 L174.5,29.6 L174.9,29.7 L175.3,29.8 L175.7,29.9 L176.1,30.0 L176.5,30.1 L176.9,30.2 L177.3,30.3 L177.7,30.4 L178.1,30.5 L178.5,30.6 L178.9,30.7 L179.3,30.8 L179.7,30.9 L180.1,31.0 L180.5,31.1 L180.9,31.3 L181.3,31.4 L181.7,31.5 L182.1,31.6 L182.5,31.7 L182.9,31.9 L183.3,32.0 L183.7,32.1 L184.1,32.3 L184.5,32.4 L184.9,32.6 L185.3,32.7 L185.7,32.9 L186.1,33.0 L186.5,33.2 L186.9,33.4 L187.3,33.6 L187.7,33.7 L188.1,33.9 L188.5,34.1 L188.9,34.3 L189.3,34.5 L189.7,34.7 L190.1,34.9 L190.5,35.2 L190.9,35.4 L191.3,35.6 L191.7,35.9 L192.1,36.1 L192.5,36.4 L192.9,36.6 L193.3,36.9 L193.7,37.2 L194.1,37.5 L194.5,37.7 L194.9,38.0 L195.3,38.4 L195.7,38.7 L196.1,39.0 L196.5,39.3 L196.9,39.6 L197.3,40.0 L197.7,40.3 L198.1,40.7 L198.5,41.0 L198.9,41.4 L199.3,41.8 L199.7,42.2 L200.1,42.6 L200.5,43.0 L200.9,43.4 L201.3,43.9 L201.7,44.4 L202.1,44.9 L202.5,45.4 L202.9,46.0 L203.3,46.6 L203.7,47.2 L204.1,47.9 L204.5,48.6 L204.9,49.4 L205.3,50.1 L205.7,50.9 L206.1,51.7 L206.5,52.5 L206.9,53.3 L207.3,54.1 L207.7,55.0 L208.1,55.9 L208.5,56.8 L208.9,57.8 L209.3,58.8 L209.7,59.9 L210.1,61.1 L210.5,62.3 L210.9,63.7 L211.3,65.2 L211.7,66.9 L212.1,68.9 L212.5,71.5 L212.9,74.7 L213.3,78.3 L213.7,81.9 L214.1,85.6 L214.5,89.5 L214.9,93.6 L215.3,97.7 L215.7,102.0 L216.1,106.3 L216.5,110.6 L216.9,114.9 L217.3,119.5 L217.7,124.8 L218.1,130.7 L218.5,136.5 L218.9,142.1 L219.3,147.0 L219.7,150.8 L220.1,153.1 L220.5,153.6 L220.9,151.2 L221.3,146.2 L221.7,139.5 L222.1,131.9 L222.5,124.3 L222.9,117.5 L223.3,111.6 L223.7,105.5 L224.1,99.4 L224.5,93.4 L224.9,87.9 L225.3,83.1 L225.7,79.1 L226.1,75.4 L226.5,71.9 L226.9,68.6 L227.3,65.6 L227.7,62.8 L228.1,60.2 L228.5,58.0 L228.9,56.0 L229.3,54.2 L229.7,52.5 L230.1,50.8 L230.5,49.3 L230.9,47.9 L231.3,46.6 L231.7,45.5 L232.1,44.6 L232.5,43.9 L232.9,43.3 L233.3,42.9 L233.7,42.4 L234.1,41.9 L234.5,41.5 L234.9,41.1 L235.3,40.7 L235.7,40.3 L236.1,40.0 L236.5,39.6 L236.9,39.3 L237.3,39.1 L237.7,38.8 L238.1,38.6 L238.5,38.4 L238.9,38.3 L239.3,38.2 L239.7,38.1 L240.1,38.0 L240.5,38.0 L240.9,38.0 L241.3,38.1 L241.7,38.1 L242.1,38.2 L242.5,38.4 L242.9,38.5 L243.3,38.7 L243.7,38.9 L244.1,39.1 L244.5,39.3 L244.9,39.5 L245.3,39.8 L245.7,40.0 L246.1,40.3 L246.5,40.6 L246.9,40.9 L247.3,41.1 L247.7,41.4 L248.1,41.7 L248.5,42.0 L248.9,42.4 L249.3,42.7 L249.7,43.2 L250.1,43.6 L250.5,44.1 L250.9,44.6 L251.3,45.1 L251.7,45.7 L252.1,46.2 L252.5,46.8 L252.9,47.5 L253.3,48.1 L253.7,48.7 L254.1,49.4 L254.5,50.1 L254.9,50.8 L255.3,51.5 L255.7,52.2 L256.1,52.9 L256.5,53.6 L256.9,54.4 L257.3,55.3 L257.7,56.1 L258.1,57.0 L258.5,58.0 L258.9,58.9 L259.3,59.9 L259.7,61.0 L260.1,62.0 L260.5,63.1 L260.9,64.2 L261.3,65.4 L261.7,66.5 L262.1,67.8 L262.5,69.0 L262.9,70.3 L263.3,71.7 L263.7,73.2 L264.1,74.7 L264.5,76.4 L264.9,78.1 L265.3,80.0 L265.7,82.0 L266.1,84.3 L266.5,86.8 L266.9,89.5 L267.3,92.4 L267.7,95.5 L268.1,98.8 L268.5,102.3 L268.9,105.9 L269.3,109.6 L269.7,113.4 L270.1,117.4 L270.5,121.6 L270.9,126.2 L271.3,131.1 L271.7,136.4 L272.1,142.0 L272.5,147.9 L272.9,154.3 L273.3,161.8 L273.7,170.0 L274.1,178.4 L274.5,186.4 L274.9,193.8 L275.3,201.0 L275.7,208.2 L276.1,215.8 L276.5,224.3 L276.9,236.2 L277.3,249.5 L277.7,260.9 L278.1,267.0 L278.5,264.9 L278.9,255.8 L279.3,243.0 L279.7,230.0 L280.1,219.8 L280.5,211.5 L280.9,203.7 L281.3,196.0 L281.7,188.4 L282.1,180.3 L282.5,171.9 L282.9,163.7 L283.3,156.0 L283.7,149.5 L284.1,143.6 L284.5,138.1 L284.9,132.9 L285.3,128.1 L285.7,123.6 L286.1,119.4 L286.5,115.4 L286.9,111.7 L287.3,108.2 L287.7,104.9 L288.1,101.7 L288.5,98.6 L288.9,95.6 L289.3,92.8 L289.7,89.9 L290.1,87.2 L290.5,84.4 L290.9,81.7 L291.3,78.9 L291.7,76.0 L292.1,73.2 L292.5,70.5 L292.9,68.0 L293.3,65.8 L293.7,64.1 L294.1,62.8 L294.5,61.7 L294.9,60.5 L295.3,59.3 L295.7,58.0 L296.1,56.8 L296.5,55.6 L296.9,54.4 L297.3,53.2 L297.7,52.1 L298.1,50.9 L298.5,49.8 L298.9,48.7 L299.3,47.6 L299.7,46.7 L300.1,45.8 L300.5,45.0 L300.9,44.2 L301.3,43.5 L301.7,42.7 L302.1,42.1 L302.5,41.4 L302.9,40.8 L303.3,40.2 L303.7,39.7 L304.1,39.2 L304.5,38.7 L304.9,38.2 L305.3,37.8 L305.7,37.4 L306.1,37.0 L306.5,36.6 L306.9,36.3 L307.3,35.9 L307.7,35.6 L308.1,35.3 L308.5,35.0 L308.9,34.7 L309.3,34.4 L309.7,34.1 L310.1,33.8 L310.5,33.6 L310.9,33.3 L311.3,33.1 L311.7,32.8 L312.1,32.6 L312.5,32.4 L312.9,32.2 L313.3,31.9 L313.7,31.7 L314.1,31.5 L314.5,31.3 L314.9,31.2 L315.3,31.0 L315.7,30.8 L316.1,30.7 L316.5,30.5 L316.9,30.4 L317.3,30.3 L317.7,30.1 L318.1,30.0 L318.5,29.8 L318.9,29.7 L319.3,29.6 L319.7,29.4 L320.1,29.3 L320.5,29.2 L320.9,29.1 L321.3,29.0 L321.7,28.8 L322.1,28.7 L322.5,28.7 L322.9,28.6 L323.3,28.5 L323.7,28.4 L324.1,28.4 L324.5,28.3 L324.9,28.3 L325.3,28.3 L325.7,28.3 L326.1,28.3 L326.5,28.3 L326.9,28.3 L327.3,28.3 L327.7,28.3 L328.1,28.3 L328.5,28.3 L328.9,28.3 L329.3,28.3 L329.7,28.3 L330.1,28.3 L330.5,28.3 L330.9,28.3 L331.3,28.3 L331.7,28.3 L332.1,28.4 L332.5,28.4 L332.9,28.5 L333.3,28.6 L333.7,28.7 L334.1,28.8 L334.5,28.9 L334.9,29.0 L335.3,29.2 L335.7,29.3 L336.1,29.4 L336.5,29.6 L336.9,29.7 L337.3,29.9 L337.7,30.0 L338.1,30.1 L338.5,30.3 L338.9,30.4 L339.3,30.6 L339.7,30.8 L340.1,31.0 L340.5,31.2 L340.9,31.4 L341.3,31.6 L341.7,31.8 L342.1,32.0 L342.5,32.2 L342.9,32.5 L343.3,32.7 L343.7,32.9 L344.1,33.2 L344.5,33.4 L344.9,33.7 L345.3,33.9 L345.7,34.2 L346.1,34.5 L346.5,34.8 L346.9,35.0 L347.3,35.3 L347.7,35.7 L348.1,36.0 L348.5,36.3 L348.9,36.7 L349.3,37.1 L349.7,37.5 L350.1,37.9 L350.5,38.4 L350.9,38.9 L351.3,39.4 L351.7,40.0 L352.1,40.6 L352.5,41.2 L352.9,41.9 L353.3,42.6 L353.7,43.3 L354.1,44.0 L354.5,44.8 L354.9,45.6 L355.3,46.5 L355.7,47.4 L356.1,48.3 L356.5,49.3 L356.9,50.4 L357.3,51.4 L357.7,52.5 L358.1,53.5 L358.5,54.5 L358.9,55.5 L359.3,56.7 L359.7,58.0 L360.1,59.6 L360.5,61.6 L360.9,64.4 L361.3,67.7 L361.7,71.5 L362.1,75.4 L362.5,79.2 L362.9,82.8 L363.3,86.2 L363.7,89.6 L364.1,93.1 L364.5,96.7 L364.9,100.7 L365.3,105.0 L365.7,109.9 L366.1,115.9 L366.5,122.8 L366.9,130.1 L367.3,137.3 L367.7,144.0 L368.1,149.8 L368.5,154.4 L368.9,158.5 L369.3,162.2 L369.7,165.7 L370.1,169.1 L370.5,172.6 L370.9,176.3 L371.3,180.8 L371.7,186.5 L372.1,191.7 L372.5,195.0 L372.9,195.3 L373.3,194.2 L373.7,192.0 L374.1,189.2 L374.5,185.9 L374.9,182.4 L375.3,179.0 L375.7,175.7 L376.1,172.1 L376.5,168.3 L376.9,164.2 L377.3,159.7 L377.7,154.9 L378.1,149.6 L378.5,142.5 L378.9,135.7 L379.3,131.4 L379.7,127.7 L380.1,124.4 L380.5,121.5 L380.9,118.8 L381.3,116.3 L381.7,113.9 L382.1,111.4 L382.5,108.7 L382.9,105.8 L383.3,102.7 L383.7,99.4 L384.1,96.0 L384.5,92.7 L384.9,89.6 L385.3,86.7 L385.7,84.2 L386.1,82.2 L386.5,80.7 L386.9,79.4 L387.3,78.3 L387.7,77.2 L388.1,76.2 L388.5,75.3 L388.9,74.5 L389.3,73.7 L389.7,72.9 L390.1,72.3 L390.5,71.6 L390.9,71.0 L391.3,70.3 L391.7,69.7 L392.1,69.1 L392.5,68.5 L392.9,67.9 L393.3,67.3 L393.7,66.7 L394.1,66.1 L394.5,65.5 L394.9,64.9 L395.3,64.3 L395.7,63.8 L396.1,63.2 L396.5,62.7 L396.9,62.2 L397.3,61.7 L397.7,61.3 L398.1,60.8 L398.5,60.4 L398.9,60.0 L399.3,59.6 L399.7,59.3 L400.1,58.9 L400.5,58.6 L400.9,58.3 L401.3,58.0 L401.7,57.7 L402.1,57.4 L402.5,57.1 L402.9,56.8 L403.3,56.6 L403.7,56.3 L404.1,56.1 L404.5,55.8 L404.9,55.6 L405.3,55.4 L405.7,55.1 L406.1,54.9 L406.5,54.7 L406.9,54.5 L407.3,54.3 L407.7,54.2 L408.1,54.0 L408.5,53.8 L408.9,53.6 L409.3,53.5 L409.7,53.3 L410.1,53.2 L410.5,53.0 L410.9,52.8 L411.3,52.7 L411.7,52.5 L412.1,52.3 L412.5,52.2 L412.9,52.0 L413.3,51.9 L413.7,51.7 L414.1,51.6 L414.5,51.5 L414.9,51.3 L415.3,51.2 L415.7,51.1 L416.1,51.0 L416.5,50.9 L416.9,50.8 L417.3,50.7 L417.7,50.6 L418.1,50.5 L418.5,50.5 L418.9,50.5 L419.3,50.4 L419.7,50.4 L420.1,50.4 L420.5,50.4 L420.9,50.4 L421.3,50.4 L421.7,50.4 L422.1,50.5 L422.5,50.5 L422.9,50.5 L423.3,50.5 L423.7,50.6 L424.1,50.6 L424.5,50.6 L424.9,50.7 L425.3,50.7 L425.7,50.8 L426.1,50.8 L426.5,50.9 L426.9,50.9 L427.3,51.0 L427.7,51.0 L428.1,51.1 L428.5,51.1 L428.9,51.2 L429.3,51.2 L429.7,51.3 L430.1,51.4 L430.5,51.4 L430.9,51.5 L431.3,51.5 L431.7,51.6 L432.1,51.7 L432.5,51.8 L432.9,51.9 L433.3,51.9 L433.7,52.0 L434.1,52.1 L434.5,52.2 L434.9,52.4 L435.3,52.5 L435.7,52.6 L436.1,52.7 L436.5,52.8 L436.9,52.9 L437.3,53.1 L437.7,53.2 L438.1,53.3 L438.5,53.4 L438.9,53.6 L439.3,53.7 L439.7,53.8 L440.1,54.0 L440.5,54.1 L440.9,54.2 L441.3,54.4 L441.7,54.5 L442.1,54.7 L442.5,54.9 L442.9,55.0 L443.3,55.2 L443.7,55.3 L444.1,55.5 L444.5,55.7 L444.9,55.9 L445.3,56.0 L445.7,56.2 L446.1,56.4 L446.5,56.5 L446.9,56.7 L447.3,56.9 L447.7,57.1 L448.1,57.3 L448.5,57.4 L448.9,57.6 L449.3,57.8 L449.7,58.0 L450.1,58.2 L450.5,58.4 L450.9,58.7 L451.3,58.9 L451.7,59.1 L452.1,59.3 L452.5,59.5 L452.9,59.7 L453.3,60.0 L453.7,60.2 L454.1,60.4 L454.5,60.6 L454.9,60.8 L455.3,61.0 L455.7,61.2 L456.1,61.3 L456.5,61.5 L456.9,61.7 L457.3,61.8 L457.7,61.9 L458.1,62.1 L458.5,62.2 L458.9,62.3 L459.3,62.5 L459.7,62.6 L460.1,62.7 L460.5,62.9 L460.9,63.0 L461.3,63.1 L461.7,63.2 L462.1,63.3 L462.5,63.4 L462.9,63.6 L463.3,63.7 L463.7,63.7 L464.1,63.8 L464.5,63.9 L464.9,64.0 L465.3,64.1 L465.7,64.1 L466.1,64.2 L466.5,64.2 L466.9,64.3 L467.3,64.3 L467.7,64.3 L468.1,64.4 L468.5,64.4 L468.9,64.5 L469.3,64.5 L469.7,64.5 L470.1,64.6 L470.5,64.6 L470.9,64.6 L471.3,64.7 L471.7,64.7 L472.1,64.7 L472.5,64.8 L472.9,64.8 L473.3,64.8 L473.7,64.8 L474.1,64.9 L474.5,64.9 L474.9,64.9 L475.3,64.9 L475.7,64.9 L476.1,64.9 L476.5,65.0 L476.9,65.0 L477.3,65.0 L477.7,65.0 L478.1,65.0 L478.5,65.0 L478.9,65.0 L479.3,65.0 L479.7,65.0 L480.1,65.0 L480.5,65.0 L480.9,65.0 L481.3,65.0 L481.7,65.0 L482.1,65.0 L482.5,64.9 L482.9,64.9 L483.3,64.9 L483.7,64.9 L484.1,64.9 L484.5,64.9 L484.9,64.8 L485.3,64.8 L485.7,64.8 L486.1,64.8 L486.5,64.7 L486.9,64.7 L487.3,64.7 L487.7,64.7 L488.1,64.6 L488.5,64.6 L488.9,64.6 L489.3,64.6 L489.7,64.5 L490.1,64.5 L490.5,64.5 L490.9,64.4 L491.3,64.4 L491.7,64.3 L492.1,64.2 L492.5,64.1 L492.9,64.1 L493.3,64.0 L493.7,63.9 L494.1,63.8 L494.5,63.7 L494.9,63.6 L495.3,63.5 L495.7,63.4 L496.1,63.3 L496.5,63.2 L496.9,63.1 L497.3,63.0 L497.7,62.9 L498.1,62.9 L498.5,62.8 L498.9,62.7 L499.3,62.7 L499.7,62.6 L500.1,62.5 L500.5,62.4 L500.9,62.4 L501.3,62.3 L501.7,62.2 L502.1,62.2 L502.5,62.1 L502.9,62.0 L503.3,62.0 L503.7,61.9 L504.1,61.8 L504.5,61.8 L504.9,61.7 L505.3,61.7 L505.7,61.6 L506.1,61.6 L506.5,61.6 L506.9,61.5 L507.3,61.5 L507.7,61.5 L508.1,61.5 L508.5,61.5 L508.9,61.5 L509.3,61.5 L509.7,61.5 L510.1,61.5 L510.5,61.5 L510.9,61.5 L511.3,61.5 L511.7,61.5 L512.1,61.5 L512.5,61.5 L512.9,61.5 L513.3,61.5 L513.7,61.5 L514.1,61.5 L514.5,61.5 L514.9,61.5 L515.3,61.5 L515.7,61.5 L516.1,61.5 L516.5,61.5 L516.9,61.5 L517.3,61.5 L517.7,61.5 L518.1,61.5 L518.5,61.5 L518.9,61.5 L519.3,61.5 L519.7,61.5 L520.1,61.5 L520.5,61.5 L520.9,61.5 L521.3,61.5 L521.7,61.5 L522.1,61.5 L522.5,61.5 L522.9,61.5 L523.3,61.5 L523.7,61.5 L524.1,61.5 L524.5,61.5 L524.9,61.5" fill="none" stroke="#7f7f7f" stroke-width="1.3" stroke-dasharray="7 2.2 1.6 2.2"/>
</g>
<path d="M94.9,13.4H525.1V329.6" fill="none" stroke="#111" stroke-width="1.15"/>
<path d="M94.9,12.8V329.6H525.7" fill="none" stroke="#000" stroke-width="1.5"/>
<path d="M94.9,329.6v6.6M130.8,329.6v3.5M166.6,329.6v6.6M202.5,329.6v3.5M238.3,329.6v6.6M274.2,329.6v3.5M310.0,329.6v6.6M345.9,329.6v3.5M381.7,329.6v6.6M417.6,329.6v3.5M453.4,329.6v6.6M489.2,329.6v3.5M525.1,329.6v6.6M94.9,13.4h-7.4M94.9,45.0h-3.8M94.9,76.6h-7.4M94.9,108.3h-3.8M94.9,139.9h-7.4M94.9,171.5h-3.8M94.9,203.1h-7.4M94.9,234.7h-3.8M94.9,266.4h-7.4M94.9,298.0h-3.8M94.9,329.6h-7.4" fill="none" stroke="#000" stroke-width="1.4"/>
<text x="94.6" y="355.2" font-size="19.4" text-anchor="middle">3.50</text>
<text x="166.3" y="355.2" font-size="19.4" text-anchor="middle">3.75</text>
<text x="238.0" y="355.2" font-size="19.4" text-anchor="middle">4.00</text>
<text x="309.7" y="355.2" font-size="19.4" text-anchor="middle">4.25</text>
<text x="381.4" y="355.2" font-size="19.4" text-anchor="middle">4.50</text>
<text x="453.1" y="355.2" font-size="19.4" text-anchor="middle">4.75</text>
<text x="524.8" y="355.2" font-size="19.4" text-anchor="middle">5.00</text>
<text x="83.8" y="19.4" font-size="19.4" text-anchor="end">0</text>
<text x="83.8" y="82.6" font-size="19.4" text-anchor="end">−5</text>
<text x="83.8" y="145.9" font-size="19.4" text-anchor="end">−10</text>
<text x="83.8" y="209.1" font-size="19.4" text-anchor="end">−15</text>
<text x="83.8" y="272.4" font-size="19.4" text-anchor="end">−20</text>
<text x="83.8" y="335.6" font-size="19.4" text-anchor="end">−25</text>
<text x="213.0" y="386.6" font-size="25" textLength="195.5" lengthAdjust="spacingAndGlyphs">Frequency (GHz)</text>
<text transform="translate(26.6,205.5) rotate(-90)" font-size="25" letter-spacing="0.45">S<tspan font-size="13.8" dy="6.3">21</tspan><tspan dy="-6.3">(dB)</tspan></text>
<path d="M108.2,258.6H144.4" stroke="#000" stroke-width="1.6"/>
<path d="M108.2,278.5H144.4" stroke="#777" stroke-width="1.4" stroke-dasharray="7.2 2.4 1.6 2.1"/>
<path d="M108.2,297.8H144.6" stroke="#0000ff" stroke-width="1.7"/><rect x="124.4" y="295.8" width="4" height="4" fill="#0000ff"/>
<path d="M108.2,317.0H144.6" stroke="#ff0000" stroke-width="1.7"/><path d="M126.4,313.9l2.8,5.1h-5.6z" fill="#ff0000"/>
<text x="148.1" y="264.1" font-size="14.9" stroke="#000" stroke-width="0.25" textLength="200.8" lengthAdjust="spacingAndGlyphs">EM. Sim. of the Bare Reader</text>
<text x="148.1" y="283.4" font-size="14.9" stroke="#000" stroke-width="0.25" textLength="305.1" lengthAdjust="spacingAndGlyphs">EM. Sim. of the Reader with PLA at 0.5 mm</text>
<text x="148.1" y="302.6" font-size="14.9" stroke="#000" stroke-width="0.25" textLength="180.5" lengthAdjust="spacingAndGlyphs">Meas. of the Bare Reader</text>
<text x="148.1" y="322.2" font-size="14.9" stroke="#000" stroke-width="0.25" textLength="285.0" lengthAdjust="spacingAndGlyphs">Meas. of the Reader with PLA at 0.2 mm</text>
</svg></body></html>
